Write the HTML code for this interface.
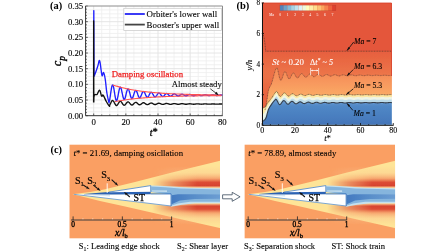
<!DOCTYPE html>
<html><head><meta charset="utf-8"><style>
html,body{margin:0;padding:0;background:#fff;width:448px;height:252px;overflow:hidden}
svg{display:block}
text{stroke:#000;stroke-width:0.1px}
</style></head><body>
<svg width="448" height="252" viewBox="0 0 448 252" font-family="'Liberation Serif', 'Times New Roman', serif">
<rect width="448" height="252" fill="#fff"/>
<path d="M101.74,6V115.7M109.78,6V115.7M117.81,6V115.7M133.89,6V115.7M141.93,6V115.7M149.96,6V115.7M166.04,6V115.7M174.07,6V115.7M182.11,6V115.7M198.19,6V115.7M206.22,6V115.7M214.26,6V115.7M85.6,111.78H222.5M85.6,107.87H222.5M85.6,103.95H222.5M85.6,96.11H222.5M85.6,92.19H222.5M85.6,88.28H222.5M85.6,80.44H222.5M85.6,76.53H222.5M85.6,72.61H222.5M85.6,64.77H222.5M85.6,60.86H222.5M85.6,56.94H222.5M85.6,49.1H222.5M85.6,45.19H222.5M85.6,41.27H222.5M85.6,33.43H222.5M85.6,29.52H222.5M85.6,25.6H222.5M85.6,17.76H222.5M85.6,13.85H222.5M85.6,9.93H222.5" stroke="#eeeeee" stroke-width="0.8" fill="none"/>
<path d="M93.7,6V115.7M125.85,6V115.7M158,6V115.7M190.15,6V115.7M85.6,100.03H222.5M85.6,84.36H222.5M85.6,68.69H222.5M85.6,53.02H222.5M85.6,37.35H222.5M85.6,21.68H222.5" stroke="#e2e2e2" stroke-width="0.9" fill="none"/>
<rect x="123.8" y="8.3" width="97.7" height="22.1" fill="#fff" stroke="#c8c8c8" stroke-width="0.7"/>
<path d="M124.8,14H144.8" stroke="#2525f5" stroke-width="1.8"/>
<path d="M124.8,24.6H144.8" stroke="#444" stroke-width="1.8"/>
<text x="146.6" y="17.2" font-size="8.9">Orbiter's lower wall</text>
<text x="146.6" y="27.9" font-size="8.9">Booster's upper wall</text>
<path d="M85.6,115.7h2.2M85.6,112.57h1.2M85.6,109.43h1.2M85.6,106.3h1.2M85.6,103.16h1.2M85.6,100.03h2.2M85.6,96.9h1.2M85.6,93.76h1.2M85.6,90.63h1.2M85.6,87.49h1.2M85.6,84.36h2.2M85.6,81.23h1.2M85.6,78.09h1.2M85.6,74.96h1.2M85.6,71.82h1.2M85.6,68.69h2.2M85.6,65.56h1.2M85.6,62.42h1.2M85.6,59.29h1.2M85.6,56.15h1.2M85.6,53.02h2.2M85.6,49.89h1.2M85.6,46.75h1.2M85.6,43.62h1.2M85.6,40.48h1.2M85.6,37.35h2.2M85.6,34.22h1.2M85.6,31.08h1.2M85.6,27.95h1.2M85.6,24.81h1.2M85.6,21.68h2.2M85.6,18.55h1.2M85.6,15.41h1.2M85.6,12.28h1.2M85.6,9.14h1.2M85.6,6.01h2.2M93.7,115.7v-2.2M101.74,115.7v-1.2M109.78,115.7v-1.2M117.81,115.7v-1.2M125.85,115.7v-2.2M133.89,115.7v-1.2M141.93,115.7v-1.2M149.96,115.7v-1.2M158,115.7v-2.2M166.04,115.7v-1.2M174.07,115.7v-1.2M182.11,115.7v-1.2M190.15,115.7v-2.2M198.19,115.7v-1.2M206.22,115.7v-1.2M214.26,115.7v-1.2M222.3,115.7v-2.2" stroke="#333" stroke-width="0.8" fill="none"/>
<path d="M85.6,6.0H222.5V115.7" stroke="#8c8c8c" stroke-width="1" fill="none"/>
<path d="M85.6,6.0V115.7H222.5" stroke="#333" stroke-width="1" fill="none"/>
<text x="83.2" y="118.65" font-size="8.7" text-anchor="end">0.00</text>
<text x="83.2" y="102.98" font-size="8.7" text-anchor="end">0.05</text>
<text x="83.2" y="87.31" font-size="8.7" text-anchor="end">0.10</text>
<text x="83.2" y="71.64" font-size="8.7" text-anchor="end">0.15</text>
<text x="83.2" y="55.97" font-size="8.7" text-anchor="end">0.20</text>
<text x="83.2" y="40.3" font-size="8.7" text-anchor="end">0.25</text>
<text x="83.2" y="24.63" font-size="8.7" text-anchor="end">0.30</text>
<text x="83.2" y="8.96" font-size="8.7" text-anchor="end">0.35</text>
<text x="93.7" y="125.3" font-size="8.8" text-anchor="middle">0</text>
<text x="125.85" y="125.3" font-size="8.8" text-anchor="middle">20</text>
<text x="158" y="125.3" font-size="8.8" text-anchor="middle">40</text>
<text x="190.15" y="125.3" font-size="8.8" text-anchor="middle">60</text>
<text x="222.3" y="125.3" font-size="8.8" text-anchor="middle">80</text>
<path d="M93.75,76.6 L93.8,10.6 L93.95,76.6 M93.95,76.6 C94.26,75.84 94.73,74.92 95.5,72.8 C96.27,70.68 96.98,68.44 97.8,66 C98.62,63.56 98.94,59.8 99.6,60.6 C100.26,61.4 100.6,66.96 101.1,70 C101.6,73.04 101.6,75.28 102.1,75.8 C102.6,76.32 102.98,71.96 103.6,72.6 C104.22,73.24 104.56,75.02 105.2,79 C105.84,82.98 106.08,87.9 106.8,92.5 C107.52,97.1 108.34,100.15 108.8,102 C109.26,103.85 108.99,101.98 109.12,101.74 C109.25,101.49 109.31,101.26 109.44,100.78 C109.57,100.29 109.64,99.98 109.76,99.31 C109.89,98.64 109.96,98.23 110.09,97.43 C110.21,96.63 110.28,96.17 110.41,95.29 C110.54,94.41 110.6,93.93 110.73,93.03 C110.86,92.14 110.92,91.66 111.05,90.82 C111.18,89.97 111.24,89.54 111.37,88.79 C111.5,88.05 111.56,87.69 111.69,87.1 C111.82,86.51 111.89,86.24 112.01,85.84 C112.14,85.43 112.21,85.28 112.34,85.09 C112.47,84.9 112.53,84.86 112.66,84.9 C112.79,84.93 112.85,85.01 112.98,85.26 C113.11,85.51 113.17,85.71 113.3,86.15 C113.43,86.6 113.49,86.89 113.62,87.5 C113.75,88.11 113.82,88.47 113.94,89.2 C114.07,89.92 114.14,90.34 114.27,91.13 C114.39,91.93 114.46,92.36 114.59,93.17 C114.72,93.97 114.78,94.4 114.91,95.16 C115.04,95.93 115.1,96.32 115.23,96.99 C115.36,97.67 115.42,97.99 115.55,98.53 C115.68,99.07 115.74,99.32 115.87,99.69 C116,100.06 116.07,100.21 116.19,100.39 C116.32,100.57 116.39,100.61 116.52,100.6 C116.64,100.58 116.71,100.52 116.84,100.31 C116.97,100.11 117.03,99.95 117.16,99.57 C117.29,99.19 117.35,98.94 117.48,98.42 C117.61,97.9 117.67,97.59 117.8,96.96 C117.93,96.33 117.99,95.98 118.12,95.29 C118.25,94.61 118.32,94.23 118.44,93.53 C118.57,92.84 118.64,92.47 118.77,91.81 C118.9,91.15 118.96,90.81 119.09,90.23 C119.22,89.65 119.28,89.37 119.41,88.91 C119.54,88.45 119.6,88.24 119.73,87.93 C119.86,87.61 119.92,87.49 120.05,87.34 C120.18,87.2 120.25,87.17 120.37,87.19 C120.5,87.22 120.57,87.28 120.7,87.48 C120.82,87.68 120.89,87.83 121.02,88.17 C121.15,88.52 121.21,88.75 121.34,89.22 C121.47,89.69 121.53,89.98 121.66,90.54 C121.79,91.11 121.85,91.43 121.98,92.05 C122.11,92.67 122.17,93.01 122.3,93.64 C122.43,94.27 122.5,94.6 122.62,95.19 C122.75,95.79 122.82,96.09 122.95,96.62 C123.07,97.14 123.14,97.4 123.27,97.82 C123.4,98.24 123.46,98.43 123.59,98.72 C123.72,99.01 123.78,99.12 123.91,99.26 C124.04,99.41 124.1,99.44 124.23,99.43 C124.36,99.42 124.42,99.37 124.55,99.21 C124.68,99.05 124.75,98.92 124.87,98.63 C125,98.33 125.07,98.14 125.2,97.73 C125.33,97.33 125.39,97.08 125.52,96.59 C125.65,96.11 125.71,95.83 125.84,95.29 C125.97,94.76 126.03,94.47 126.16,93.92 C126.29,93.38 126.35,93.09 126.48,92.58 C126.61,92.06 126.68,91.8 126.8,91.35 C126.93,90.9 127,90.68 127.13,90.32 C127.25,89.96 127.32,89.8 127.45,89.56 C127.58,89.31 127.64,89.22 127.77,89.1 C127.9,88.99 127.96,88.96 128.09,88.99 C128.22,89.01 128.28,89.05 128.41,89.21 C128.54,89.36 128.6,89.48 128.73,89.75 C128.86,90.02 128.93,90.19 129.05,90.56 C129.18,90.93 129.25,91.15 129.38,91.6 C129.5,92.04 129.57,92.29 129.7,92.77 C129.83,93.25 129.89,93.52 130.02,94 C130.15,94.49 130.21,94.75 130.34,95.22 C130.47,95.68 130.53,95.92 130.66,96.33 C130.79,96.74 130.85,96.94 130.98,97.26 C131.11,97.59 131.18,97.74 131.3,97.96 C131.43,98.19 131.5,98.28 131.63,98.39 C131.76,98.5 131.82,98.52 131.95,98.52 C132.08,98.51 132.14,98.47 132.27,98.34 C132.4,98.22 132.46,98.12 132.59,97.89 C132.72,97.66 132.78,97.51 132.91,97.2 C133.04,96.88 133.11,96.69 133.23,96.31 C133.36,95.93 133.43,95.71 133.56,95.29 C133.68,94.88 133.75,94.65 133.88,94.23 C134.01,93.8 134.07,93.58 134.2,93.18 C134.33,92.78 134.39,92.57 134.52,92.22 C134.65,91.87 134.71,91.7 134.84,91.42 C134.97,91.14 135.03,91.01 135.16,90.82 C135.29,90.63 135.36,90.56 135.48,90.47 C135.61,90.38 135.68,90.36 135.81,90.38 C135.93,90.4 136,90.43 136.13,90.55 C136.26,90.67 136.32,90.76 136.45,90.97 C136.58,91.19 136.64,91.32 136.77,91.61 C136.9,91.9 136.96,92.07 137.09,92.41 C137.22,92.76 137.28,92.95 137.41,93.33 C137.54,93.7 137.61,93.91 137.73,94.29 C137.86,94.67 137.93,94.87 138.06,95.24 C138.19,95.6 138.25,95.78 138.38,96.1 C138.51,96.42 138.57,96.57 138.7,96.83 C138.83,97.08 138.89,97.2 139.02,97.37 C139.15,97.55 139.21,97.62 139.34,97.71 C139.47,97.79 139.54,97.81 139.66,97.81 C139.79,97.8 139.86,97.77 139.99,97.67 C140.11,97.57 140.18,97.5 140.31,97.32 C140.44,97.14 140.5,97.02 140.63,96.78 C140.76,96.53 140.82,96.38 140.95,96.09 C141.08,95.79 141.14,95.62 141.27,95.3 C141.4,94.97 141.46,94.79 141.59,94.46 C141.72,94.13 141.79,93.96 141.91,93.65 C142.04,93.34 142.11,93.18 142.24,92.9 C142.36,92.63 142.43,92.5 142.56,92.28 C142.69,92.06 142.75,91.96 142.88,91.81 C143.01,91.66 143.07,91.61 143.2,91.54 C143.33,91.47 143.39,91.45 143.52,91.47 C143.65,91.48 143.71,91.51 143.84,91.6 C143.97,91.69 144.04,91.76 144.16,91.93 C144.29,92.09 144.36,92.2 144.49,92.42 C144.62,92.65 144.68,92.78 144.81,93.05 C144.94,93.32 145,93.47 145.13,93.76 C145.26,94.06 145.32,94.22 145.45,94.51 C145.58,94.81 145.64,94.97 145.77,95.25 C145.9,95.53 145.97,95.68 146.09,95.92 C146.22,96.17 146.29,96.29 146.42,96.49 C146.54,96.69 146.61,96.78 146.74,96.92 C146.87,97.05 146.93,97.11 147.06,97.17 C147.19,97.24 147.25,97.26 147.38,97.25 C147.51,97.25 147.57,97.22 147.7,97.15 C147.83,97.07 147.89,97.01 148.02,96.87 C148.15,96.73 148.22,96.64 148.34,96.45 C148.47,96.26 148.54,96.14 148.67,95.91 C148.79,95.68 148.86,95.55 148.99,95.3 C149.12,95.04 149.18,94.91 149.31,94.65 C149.44,94.39 149.5,94.26 149.63,94.01 C149.76,93.77 149.82,93.65 149.95,93.43 C150.08,93.22 150.14,93.11 150.27,92.95 C150.4,92.78 150.47,92.7 150.59,92.58 C150.72,92.47 150.79,92.42 150.92,92.37 C151.05,92.31 151.11,92.3 151.24,92.31 C151.37,92.32 151.43,92.35 151.56,92.42 C151.69,92.49 151.75,92.55 151.88,92.67 C152.01,92.8 152.07,92.89 152.2,93.06 C152.33,93.23 152.4,93.34 152.52,93.55 C152.65,93.76 152.72,93.88 152.85,94.1 C152.97,94.33 153.04,94.46 153.17,94.69 C153.3,94.92 153.36,95.04 153.49,95.26 C153.62,95.48 153.68,95.59 153.81,95.79 C153.94,95.98 154,96.07 154.13,96.23 C154.26,96.38 154.32,96.45 154.45,96.56 C154.58,96.67 154.65,96.71 154.77,96.76 C154.9,96.81 154.97,96.83 155.1,96.82 C155.22,96.82 155.29,96.8 155.42,96.74 C155.55,96.68 155.61,96.63 155.74,96.53 C155.87,96.42 155.93,96.35 156.06,96.2 C156.19,96.05 156.25,95.96 156.38,95.78 C156.51,95.6 156.57,95.49 156.7,95.3 C156.83,95.1 156.9,94.99 157.03,94.79 C157.15,94.59 157.22,94.49 157.35,94.3 C157.48,94.11 157.54,94.01 157.67,93.84 C157.8,93.68 157.86,93.6 157.99,93.47 C158.12,93.33 158.18,93.27 158.31,93.18 C158.44,93.09 158.5,93.06 158.63,93.02 C158.76,92.97 158.83,92.97 158.95,92.97 C159.08,92.98 159.15,93 159.28,93.06 C159.4,93.11 159.47,93.15 159.6,93.25 C159.73,93.35 159.79,93.42 159.92,93.55 C160.05,93.69 160.11,93.77 160.24,93.93 C160.37,94.1 160.43,94.19 160.56,94.37 C160.69,94.55 160.75,94.64 160.88,94.82 C161.01,95 161.08,95.1 161.2,95.27 C161.33,95.44 161.4,95.53 161.53,95.68 C161.65,95.83 161.72,95.9 161.85,96.02 C161.98,96.14 162.04,96.2 162.17,96.28 C162.3,96.36 162.36,96.4 162.49,96.44 C162.62,96.48 162.68,96.49 162.81,96.48 C162.94,96.48 163,96.47 163.13,96.42 C163.26,96.38 163.33,96.34 163.46,96.25 C163.58,96.17 163.65,96.11 163.78,96 C163.91,95.88 163.97,95.81 164.1,95.67 C164.23,95.53 164.29,95.45 164.42,95.3 C164.55,95.14 164.61,95.06 164.74,94.9 C164.87,94.75 164.93,94.67 165.06,94.52 C165.19,94.37 165.26,94.3 165.38,94.17 C165.51,94.04 165.58,93.97 165.71,93.87 C165.83,93.77 165.9,93.72 166.03,93.65 C166.16,93.58 166.22,93.55 166.35,93.52 C166.48,93.49 166.54,93.48 166.67,93.49 C166.8,93.49 166.86,93.51 166.99,93.55 C167.12,93.59 167.18,93.63 167.31,93.71 C167.44,93.78 167.51,93.83 167.63,93.94 C167.76,94.05 167.83,94.11 167.96,94.24 C168.08,94.36 168.15,94.44 168.28,94.57 C168.41,94.71 168.47,94.79 168.6,94.93 C168.73,95.07 168.79,95.14 168.92,95.28 C169.05,95.41 169.11,95.48 169.24,95.6 C169.37,95.71 169.43,95.77 169.56,95.86 C169.69,95.96 169.76,96 169.89,96.06 C170.01,96.13 170.08,96.15 170.21,96.19 C170.34,96.22 170.4,96.23 170.53,96.22 C170.66,96.22 170.72,96.21 170.85,96.17 C170.98,96.14 171.04,96.11 171.17,96.04 C171.3,95.98 171.36,95.93 171.49,95.84 C171.62,95.75 171.69,95.7 171.81,95.59 C171.94,95.48 172.01,95.42 172.14,95.3 C172.26,95.18 172.33,95.11 172.46,94.99 C172.59,94.87 172.65,94.81 172.78,94.69 C172.91,94.58 172.97,94.52 173.1,94.42 C173.23,94.32 173.29,94.27 173.42,94.19 C173.55,94.11 173.61,94.07 173.74,94.02 C173.87,93.96 173.94,93.94 174.06,93.91 C174.19,93.89 174.26,93.88 174.39,93.89 C174.51,93.89 174.58,93.9 174.71,93.94 C174.84,93.97 174.9,94 175.03,94.06 C175.16,94.12 175.22,94.16 175.35,94.24 C175.48,94.32 175.54,94.37 175.67,94.47 C175.8,94.57 175.86,94.63 175.99,94.73 C176.12,94.84 176.19,94.9 176.32,95.01 C176.44,95.12 176.51,95.18 176.64,95.28 C176.77,95.39 176.83,95.44 176.96,95.53 C177.09,95.62 177.15,95.67 177.28,95.74 C177.41,95.81 177.47,95.85 177.6,95.9 C177.73,95.95 177.79,95.97 177.92,95.99 C178.05,96.02 178.12,96.02 178.24,96.02 C178.37,96.02 178.44,96.01 178.57,95.98 C178.69,95.95 178.76,95.93 178.89,95.88 C179.02,95.83 179.08,95.79 179.21,95.72 C179.34,95.65 179.4,95.61 179.53,95.53 C179.66,95.44 179.72,95.39 179.85,95.3 C179.98,95.21 180.04,95.15 180.17,95.06 C180.3,94.97 180.37,94.92 180.49,94.83 C180.62,94.74 180.69,94.69 180.82,94.61 C180.94,94.53 181.01,94.49 181.14,94.43 C181.27,94.37 181.33,94.34 181.46,94.3 C181.59,94.26 181.65,94.24 181.78,94.22 C181.91,94.2 181.97,94.2 182.1,94.2 C182.23,94.2 182.29,94.21 182.42,94.24 C182.55,94.26 182.62,94.29 182.75,94.33 C182.87,94.38 182.94,94.41 183.07,94.47 C183.2,94.54 183.26,94.58 183.39,94.65 C183.52,94.73 183.58,94.78 183.71,94.86 C183.84,94.94 183.9,94.99 184.03,95.07 C184.16,95.16 184.22,95.2 184.35,95.29 C184.48,95.37 184.55,95.41 184.67,95.48 C184.8,95.55 184.87,95.58 185,95.64 C185.12,95.7 185.19,95.72 185.32,95.76 C185.45,95.8 185.51,95.82 185.64,95.84 C185.77,95.86 185.83,95.86 185.96,95.86 C186.09,95.86 186.15,95.85 186.28,95.83 C186.41,95.81 186.47,95.79 186.6,95.75 C186.73,95.71 186.8,95.69 186.92,95.63 C187.05,95.58 187.12,95.54 187.25,95.48 C187.37,95.41 187.44,95.37 187.57,95.3 C187.7,95.23 187.76,95.19 187.89,95.11 C188.02,95.04 188.08,95 188.21,94.93 C188.34,94.86 188.4,94.83 188.53,94.76 C188.66,94.7 188.72,94.67 188.85,94.62 C188.98,94.58 189.05,94.55 189.18,94.52 C189.3,94.49 189.37,94.47 189.5,94.46 C189.63,94.44 189.69,94.44 189.82,94.44 C189.95,94.45 190.01,94.45 190.14,94.47 C190.27,94.49 190.33,94.51 190.46,94.55 C190.59,94.58 190.65,94.61 190.78,94.66 C190.91,94.71 190.98,94.74 191.1,94.8 C191.23,94.86 191.3,94.89 191.43,94.96 C191.55,95.02 191.62,95.06 191.75,95.12 C191.88,95.19 191.94,95.23 192.07,95.29 C192.2,95.35 192.26,95.38 192.39,95.44 C192.52,95.5 192.58,95.52 192.71,95.57 C192.84,95.61 192.9,95.63 193.03,95.66 C193.16,95.69 193.23,95.7 193.35,95.72 C193.48,95.73 193.55,95.74 193.68,95.74 C193.8,95.74 193.87,95.73 194,95.71 C194.13,95.7 194.19,95.68 194.32,95.65 C194.45,95.62 194.51,95.6 194.64,95.56 C194.77,95.51 194.83,95.49 194.96,95.44 C195.09,95.39 195.15,95.36 195.28,95.3 C195.41,95.24 195.48,95.21 195.61,95.15 C195.73,95.1 195.8,95.07 195.93,95.01 C196.06,94.96 196.12,94.93 196.25,94.88 C196.38,94.83 196.44,94.81 196.57,94.77 C196.7,94.74 196.76,94.72 196.89,94.69 C197.02,94.67 197.08,94.66 197.21,94.64 C197.34,94.63 197.41,94.63 197.53,94.63 C197.66,94.63 197.73,94.64 197.86,94.66 C197.98,94.67 198.05,94.68 198.18,94.71 C198.31,94.74 198.37,94.76 198.5,94.8 C198.63,94.84 198.69,94.86 198.82,94.91 C198.95,94.95 199.01,94.98 199.14,95.03 C199.27,95.08 199.33,95.11 199.46,95.16 C199.59,95.21 199.66,95.24 199.78,95.29 C199.91,95.34 199.98,95.37 200.11,95.41 C200.23,95.45 200.3,95.47 200.43,95.51 C200.56,95.54 200.62,95.56 200.75,95.58 C200.88,95.61 200.94,95.61 201.07,95.63 C201.2,95.64 201.26,95.64 201.39,95.64 C201.52,95.64 201.58,95.64 201.71,95.62 C201.84,95.61 201.91,95.6 202.04,95.57 C202.16,95.55 202.23,95.53 202.36,95.5 C202.49,95.47 202.55,95.45 202.68,95.41 C202.81,95.37 202.87,95.34 203,95.3 C203.13,95.26 203.19,95.23 203.32,95.19 C203.45,95.14 203.51,95.12 203.64,95.08 C203.77,95.03 203.84,95.01 203.96,94.97 C204.09,94.94 204.16,94.92 204.29,94.89 C204.41,94.86 204.48,94.85 204.61,94.83 C204.74,94.81 204.8,94.8 204.93,94.79 C205.06,94.78 205.12,94.78 205.25,94.78 C205.38,94.78 205.44,94.79 205.57,94.8 C205.7,94.81 205.76,94.82 205.89,94.84 C206.02,94.86 206.09,94.88 206.21,94.91 C206.34,94.94 206.41,94.96 206.54,94.99 C206.66,95.03 206.73,95.05 206.86,95.09 C206.99,95.13 207.05,95.15 207.18,95.19 C207.31,95.23 207.37,95.25 207.5,95.29 C207.63,95.33 207.69,95.35 207.82,95.38 C207.95,95.42 208.01,95.43 208.14,95.46 C208.27,95.49 208.34,95.5 208.47,95.52 C208.59,95.54 208.66,95.55 208.79,95.55 C208.92,95.56 208.98,95.57 209.11,95.57 C209.24,95.56 209.3,95.56 209.43,95.55 C209.56,95.54 209.62,95.53 209.75,95.51 C209.88,95.49 209.94,95.48 210.07,95.46 C210.2,95.43 210.27,95.41 210.39,95.38 C210.52,95.35 210.59,95.33 210.72,95.3 C210.84,95.27 210.91,95.25 211.04,95.21 C211.17,95.18 211.23,95.16 211.36,95.13 C211.49,95.09 211.55,95.08 211.68,95.05 C211.81,95.02 211.87,95 212,94.98 C212.13,94.96 212.19,94.95 212.32,94.93 C212.45,94.92 212.52,94.91 212.64,94.9 C212.77,94.89 212.84,94.89 212.97,94.89 C213.09,94.9 213.16,94.9 213.29,94.91 C213.42,94.92 213.48,94.93 213.61,94.94 C213.74,94.96 213.8,94.97 213.93,95 C214.06,95.02 214.12,95.03 214.25,95.06 C214.38,95.09 214.44,95.11 214.57,95.14 C214.7,95.17 214.77,95.19 214.9,95.22 C215.02,95.25 215.09,95.26 215.22,95.29 C215.35,95.32 215.41,95.34 215.54,95.37 C215.67,95.39 215.73,95.4 215.86,95.43 C215.99,95.45 216.05,95.46 216.18,95.47 C216.31,95.49 216.37,95.49 216.5,95.5 C216.63,95.51 216.7,95.51 216.82,95.51 C216.95,95.51 217.02,95.5 217.15,95.5 C217.27,95.49 217.34,95.48 217.47,95.47 C217.6,95.45 217.66,95.44 217.79,95.42 C217.92,95.4 217.98,95.39 218.11,95.36 C218.24,95.34 218.3,95.33 218.43,95.3 C218.56,95.27 218.62,95.26 218.75,95.23 C218.88,95.2 218.95,95.19 219.07,95.16 C219.2,95.14 219.27,95.13 219.4,95.1 C219.52,95.08 219.59,95.07 219.72,95.05 C219.85,95.03 219.91,95.02 220.04,95.01 C220.17,95 220.23,95 220.36,94.99 C220.49,94.98 220.55,94.98 220.68,94.98 C220.81,94.99 220.87,94.99 221,95 C221.13,95 221.2,95.01 221.33,95.02 C221.45,95.04 221.52,95.04 221.65,95.06 C221.78,95.08 221.84,95.09 221.97,95.11 C222.1,95.14 222.23,95.16 222.29,95.17" stroke="#1f1fff" stroke-width="1.35" fill="none" stroke-linejoin="round"/>
<path d="M93.6,102.4 L93.65,20.8 L93.8,102.4 M93.8,102.4 C93.9,100.96 93.64,96.8 94.3,95.2 C94.96,93.6 96.04,95.4 97.1,94.4 C98.16,93.4 98.7,89.88 99.6,90.2 C100.5,90.52 100.88,95 101.6,96 C102.32,97 102.26,94.1 103.2,95.2 C104.14,96.3 105.08,99.32 106.3,101.5 C107.52,103.68 108.64,105.35 109.3,106.1 C109.96,106.85 109.49,105.53 109.62,105.26 C109.75,104.98 109.81,104.96 109.94,104.72 C110.07,104.49 110.14,104.35 110.26,104.08 C110.39,103.81 110.46,103.66 110.59,103.38 C110.71,103.1 110.78,102.95 110.91,102.67 C111.04,102.39 111.1,102.25 111.23,102 C111.36,101.75 111.42,101.62 111.55,101.41 C111.68,101.2 111.74,101.11 111.87,100.95 C112,100.8 112.06,100.73 112.19,100.64 C112.32,100.55 112.39,100.52 112.51,100.5 C112.64,100.48 112.71,100.49 112.84,100.54 C112.97,100.59 113.03,100.64 113.16,100.76 C113.29,100.87 113.35,100.95 113.48,101.12 C113.61,101.3 113.67,101.4 113.8,101.62 C113.93,101.84 113.99,101.96 114.12,102.21 C114.25,102.45 114.32,102.59 114.44,102.85 C114.57,103.1 114.64,103.24 114.77,103.5 C114.89,103.75 114.96,103.88 115.09,104.11 C115.22,104.34 115.28,104.45 115.41,104.65 C115.54,104.84 115.6,104.93 115.73,105.07 C115.86,105.22 115.92,105.28 116.05,105.37 C116.18,105.45 116.24,105.48 116.37,105.51 C116.5,105.53 116.57,105.53 116.69,105.49 C116.82,105.45 116.89,105.42 117.02,105.32 C117.14,105.22 117.21,105.16 117.34,105.01 C117.47,104.86 117.53,104.77 117.66,104.59 C117.79,104.4 117.85,104.29 117.98,104.08 C118.11,103.87 118.17,103.75 118.3,103.53 C118.43,103.31 118.49,103.19 118.62,102.97 C118.75,102.76 118.82,102.64 118.94,102.45 C119.07,102.25 119.14,102.15 119.27,101.99 C119.4,101.82 119.46,101.74 119.59,101.62 C119.72,101.5 119.78,101.45 119.91,101.38 C120.04,101.31 120.1,101.29 120.23,101.27 C120.36,101.26 120.42,101.26 120.55,101.3 C120.68,101.34 120.75,101.38 120.87,101.47 C121,101.56 121.07,101.62 121.2,101.76 C121.32,101.89 121.39,101.98 121.52,102.15 C121.65,102.32 121.71,102.42 121.84,102.61 C121.97,102.8 122.03,102.91 122.16,103.11 C122.29,103.32 122.35,103.43 122.48,103.62 C122.61,103.82 122.67,103.93 122.8,104.11 C122.93,104.29 123,104.38 123.12,104.53 C123.25,104.68 123.32,104.75 123.45,104.87 C123.57,104.98 123.64,105.03 123.77,105.1 C123.9,105.17 123.96,105.19 124.09,105.21 C124.22,105.23 124.28,105.22 124.41,105.19 C124.54,105.16 124.6,105.13 124.73,105.06 C124.86,104.98 124.92,104.93 125.05,104.82 C125.18,104.7 125.25,104.63 125.37,104.48 C125.5,104.34 125.57,104.25 125.7,104.09 C125.83,103.92 125.89,103.83 126.02,103.65 C126.15,103.48 126.21,103.39 126.34,103.21 C126.47,103.04 126.53,102.96 126.66,102.8 C126.79,102.64 126.85,102.57 126.98,102.44 C127.11,102.31 127.18,102.25 127.3,102.15 C127.43,102.06 127.5,102.02 127.63,101.96 C127.75,101.9 127.82,101.89 127.95,101.87 C128.08,101.86 128.14,101.87 128.27,101.9 C128.4,101.93 128.46,101.96 128.59,102.03 C128.72,102.1 128.78,102.15 128.91,102.26 C129.04,102.36 129.1,102.43 129.23,102.56 C129.36,102.7 129.43,102.78 129.55,102.93 C129.68,103.08 129.75,103.17 129.88,103.32 C130,103.48 130.07,103.57 130.2,103.73 C130.33,103.88 130.39,103.96 130.52,104.11 C130.65,104.25 130.71,104.32 130.84,104.44 C130.97,104.56 131.03,104.61 131.16,104.7 C131.29,104.79 131.35,104.83 131.48,104.88 C131.61,104.94 131.68,104.96 131.8,104.97 C131.93,104.99 132,104.98 132.13,104.96 C132.26,104.94 132.32,104.91 132.45,104.85 C132.58,104.8 132.64,104.75 132.77,104.66 C132.9,104.57 132.96,104.52 133.09,104.4 C133.22,104.29 133.28,104.22 133.41,104.09 C133.54,103.96 133.61,103.89 133.73,103.75 C133.86,103.61 133.93,103.54 134.06,103.4 C134.18,103.27 134.25,103.2 134.38,103.08 C134.51,102.96 134.57,102.89 134.7,102.79 C134.83,102.69 134.89,102.64 135.02,102.57 C135.15,102.49 135.21,102.46 135.34,102.42 C135.47,102.37 135.53,102.36 135.66,102.35 C135.79,102.34 135.86,102.34 135.98,102.37 C136.11,102.39 136.18,102.42 136.31,102.47 C136.43,102.53 136.5,102.57 136.63,102.65 C136.76,102.73 136.82,102.79 136.95,102.89 C137.08,103 137.14,103.06 137.27,103.18 C137.4,103.3 137.46,103.36 137.59,103.49 C137.72,103.62 137.78,103.68 137.91,103.81 C138.04,103.93 138.11,103.99 138.23,104.1 C138.36,104.22 138.43,104.27 138.56,104.37 C138.69,104.46 138.75,104.5 138.88,104.57 C139.01,104.64 139.07,104.67 139.2,104.72 C139.33,104.76 139.39,104.77 139.52,104.79 C139.65,104.8 139.71,104.8 139.84,104.78 C139.97,104.76 140.04,104.74 140.16,104.69 C140.29,104.65 140.36,104.61 140.49,104.54 C140.61,104.47 140.68,104.43 140.81,104.34 C140.94,104.25 141,104.19 141.13,104.09 C141.26,103.99 141.32,103.93 141.45,103.82 C141.58,103.72 141.64,103.66 141.77,103.55 C141.9,103.45 141.96,103.39 142.09,103.3 C142.22,103.2 142.29,103.15 142.41,103.07 C142.54,102.99 142.61,102.95 142.74,102.89 C142.86,102.84 142.93,102.81 143.06,102.78 C143.19,102.74 143.25,102.73 143.38,102.72 C143.51,102.72 143.57,102.72 143.7,102.74 C143.83,102.76 143.89,102.77 144.02,102.82 C144.15,102.86 144.21,102.89 144.34,102.96 C144.47,103.03 144.54,103.07 144.66,103.15 C144.79,103.23 144.86,103.28 144.99,103.38 C145.12,103.47 145.18,103.52 145.31,103.62 C145.44,103.72 145.5,103.77 145.63,103.87 C145.76,103.97 145.82,104.02 145.95,104.1 C146.08,104.19 146.14,104.24 146.27,104.31 C146.4,104.38 146.47,104.42 146.59,104.47 C146.72,104.53 146.79,104.55 146.92,104.59 C147.04,104.62 147.11,104.63 147.24,104.64 C147.37,104.65 147.43,104.65 147.56,104.63 C147.69,104.62 147.75,104.6 147.88,104.57 C148.01,104.53 148.07,104.5 148.2,104.45 C148.33,104.39 148.39,104.36 148.52,104.29 C148.65,104.22 148.72,104.17 148.84,104.09 C148.97,104.01 149.04,103.97 149.17,103.88 C149.29,103.8 149.36,103.75 149.49,103.67 C149.62,103.59 149.68,103.54 149.81,103.47 C149.94,103.39 150,103.35 150.13,103.29 C150.26,103.23 150.32,103.2 150.45,103.15 C150.58,103.11 150.64,103.09 150.77,103.06 C150.9,103.03 150.97,103.02 151.09,103.02 C151.22,103.01 151.29,103.01 151.42,103.03 C151.55,103.04 151.61,103.06 151.74,103.09 C151.87,103.13 151.93,103.15 152.06,103.2 C152.19,103.26 152.25,103.29 152.38,103.35 C152.51,103.42 152.57,103.46 152.7,103.53 C152.83,103.6 152.9,103.64 153.02,103.72 C153.15,103.8 153.22,103.84 153.35,103.92 C153.47,103.99 153.54,104.03 153.67,104.1 C153.8,104.17 153.86,104.21 153.99,104.26 C154.12,104.32 154.18,104.35 154.31,104.39 C154.44,104.44 154.5,104.46 154.63,104.48 C154.76,104.51 154.82,104.52 154.95,104.52 C155.08,104.53 155.15,104.53 155.27,104.52 C155.4,104.51 155.47,104.5 155.6,104.47 C155.72,104.44 155.79,104.42 155.92,104.37 C156.05,104.33 156.11,104.3 156.24,104.25 C156.37,104.19 156.43,104.16 156.56,104.1 C156.69,104.03 156.75,104 156.88,103.93 C157.01,103.86 157.07,103.83 157.2,103.76 C157.33,103.7 157.4,103.66 157.53,103.6 C157.65,103.54 157.72,103.51 157.85,103.46 C157.98,103.41 158.04,103.39 158.17,103.35 C158.3,103.32 158.36,103.3 158.49,103.28 C158.62,103.26 158.68,103.25 158.81,103.25 C158.94,103.24 159,103.25 159.13,103.26 C159.26,103.27 159.33,103.28 159.45,103.31 C159.58,103.33 159.65,103.35 159.78,103.39 C159.9,103.44 159.97,103.46 160.1,103.51 C160.23,103.56 160.29,103.59 160.42,103.65 C160.55,103.71 160.61,103.74 160.74,103.8 C160.87,103.86 160.93,103.9 161.06,103.96 C161.19,104.02 161.25,104.05 161.38,104.1 C161.51,104.16 161.58,104.18 161.7,104.23 C161.83,104.28 161.9,104.3 162.03,104.33 C162.15,104.37 162.22,104.38 162.35,104.4 C162.48,104.42 162.54,104.43 162.67,104.43 C162.8,104.44 162.86,104.44 162.99,104.43 C163.12,104.42 163.18,104.41 163.31,104.39 C163.44,104.37 163.5,104.35 163.63,104.32 C163.76,104.28 163.83,104.26 163.96,104.22 C164.08,104.17 164.15,104.15 164.28,104.1 C164.41,104.05 164.47,104.02 164.6,103.97 C164.73,103.91 164.79,103.88 164.92,103.83 C165.05,103.78 165.11,103.76 165.24,103.71 C165.37,103.66 165.43,103.64 165.56,103.6 C165.69,103.56 165.76,103.54 165.88,103.51 C166.01,103.48 166.08,103.47 166.21,103.46 C166.33,103.44 166.4,103.43 166.53,103.43 C166.66,103.43 166.72,103.43 166.85,103.44 C166.98,103.45 167.04,103.45 167.17,103.48 C167.3,103.5 167.36,103.51 167.49,103.55 C167.62,103.58 167.68,103.6 167.81,103.64 C167.94,103.68 168.01,103.7 168.13,103.75 C168.26,103.79 168.33,103.82 168.46,103.87 C168.58,103.91 168.65,103.94 168.78,103.99 C168.91,104.03 168.97,104.06 169.1,104.1 C169.23,104.14 169.29,104.17 169.42,104.2 C169.55,104.24 169.61,104.25 169.74,104.28 C169.87,104.31 169.93,104.32 170.06,104.34 C170.19,104.35 170.26,104.36 170.39,104.36 C170.51,104.37 170.58,104.37 170.71,104.36 C170.84,104.35 170.9,104.35 171.03,104.33 C171.16,104.31 171.22,104.3 171.35,104.27 C171.48,104.24 171.54,104.23 171.67,104.19 C171.8,104.16 171.86,104.14 171.99,104.1 C172.12,104.06 172.19,104.04 172.31,103.99 C172.44,103.95 172.51,103.93 172.64,103.89 C172.76,103.85 172.83,103.83 172.96,103.79 C173.09,103.76 173.15,103.74 173.28,103.71 C173.41,103.68 173.47,103.66 173.6,103.64 C173.73,103.62 173.79,103.61 173.92,103.59 C174.05,103.58 174.11,103.58 174.24,103.57 C174.37,103.57 174.44,103.57 174.56,103.58 C174.69,103.59 174.76,103.59 174.89,103.61 C175.01,103.63 175.08,103.64 175.21,103.66 C175.34,103.69 175.4,103.7 175.53,103.74 C175.66,103.77 175.72,103.79 175.85,103.82 C175.98,103.86 176.04,103.88 176.17,103.92 C176.3,103.95 176.36,103.97 176.49,104.01 C176.62,104.05 176.69,104.07 176.82,104.1 C176.94,104.13 177.01,104.15 177.14,104.18 C177.27,104.21 177.33,104.22 177.46,104.24 C177.59,104.26 177.65,104.27 177.78,104.29 C177.91,104.3 177.97,104.3 178.1,104.31 C178.23,104.31 178.29,104.31 178.42,104.3 C178.55,104.3 178.62,104.29 178.74,104.28 C178.87,104.26 178.94,104.25 179.07,104.23 C179.19,104.21 179.26,104.2 179.39,104.17 C179.52,104.14 179.58,104.13 179.71,104.1 C179.84,104.07 179.9,104.05 180.03,104.02 C180.16,103.98 180.22,103.97 180.35,103.93 C180.48,103.9 180.54,103.89 180.67,103.86 C180.8,103.83 180.87,103.81 180.99,103.79 C181.12,103.77 181.19,103.75 181.32,103.74 C181.44,103.72 181.51,103.71 181.64,103.7 C181.77,103.69 181.83,103.69 181.96,103.69 C182.09,103.68 182.15,103.68 182.28,103.69 C182.41,103.7 182.47,103.7 182.6,103.71 C182.73,103.73 182.79,103.74 182.92,103.76 C183.05,103.78 183.12,103.79 183.25,103.81 C183.37,103.84 183.44,103.85 183.57,103.88 C183.7,103.91 183.76,103.93 183.89,103.96 C184.02,103.99 184.08,104 184.21,104.03 C184.34,104.06 184.4,104.07 184.53,104.1 C184.66,104.13 184.72,104.14 184.85,104.16 C184.98,104.19 185.05,104.2 185.17,104.21 C185.3,104.23 185.37,104.24 185.5,104.25 C185.62,104.26 185.69,104.26 185.82,104.26 C185.95,104.27 186.01,104.26 186.14,104.26 C186.27,104.26 186.33,104.25 186.46,104.24 C186.59,104.23 186.65,104.22 186.78,104.21 C186.91,104.19 186.97,104.18 187.1,104.16 C187.23,104.13 187.3,104.12 187.42,104.1 C187.55,104.07 187.62,104.06 187.75,104.03 C187.87,104.01 187.94,104 188.07,103.97 C188.2,103.95 188.26,103.93 188.39,103.91 C188.52,103.89 188.58,103.88 188.71,103.86 C188.84,103.84 188.9,103.83 189.03,103.81 C189.16,103.8 189.22,103.79 189.35,103.79 C189.48,103.78 189.55,103.78 189.68,103.77 C189.8,103.77 189.87,103.77 190,103.78 C190.13,103.78 190.19,103.79 190.32,103.8 C190.45,103.81 190.51,103.81 190.64,103.83 C190.77,103.85 190.83,103.86 190.96,103.87 C191.09,103.89 191.15,103.91 191.28,103.93 C191.41,103.95 191.48,103.96 191.6,103.99 C191.73,104.01 191.8,104.02 191.93,104.05 C192.05,104.07 192.12,104.08 192.25,104.1 C192.38,104.12 192.44,104.13 192.57,104.15 C192.7,104.17 192.76,104.18 192.89,104.19 C193.02,104.2 193.08,104.21 193.21,104.21 C193.34,104.22 193.4,104.23 193.53,104.23 C193.66,104.23 193.73,104.23 193.85,104.23 C193.98,104.22 194.05,104.22 194.18,104.21 C194.3,104.2 194.37,104.2 194.5,104.18 C194.63,104.17 194.69,104.16 194.82,104.14 C194.95,104.13 195.01,104.12 195.14,104.1 C195.27,104.08 195.33,104.07 195.46,104.05 C195.59,104.03 195.65,104.02 195.78,104 C195.91,103.98 195.98,103.97 196.11,103.95 C196.23,103.93 196.3,103.92 196.43,103.91 C196.56,103.89 196.62,103.89 196.75,103.88 C196.88,103.86 196.94,103.86 197.07,103.85 C197.2,103.85 197.26,103.84 197.39,103.84 C197.52,103.84 197.58,103.84 197.71,103.85 C197.84,103.85 197.91,103.85 198.03,103.86 C198.16,103.87 198.23,103.88 198.36,103.89 C198.48,103.9 198.55,103.91 198.68,103.92 C198.81,103.94 198.87,103.95 199,103.96 C199.13,103.98 199.19,103.99 199.32,104.01 C199.45,104.03 199.51,104.04 199.64,104.06 C199.77,104.07 199.83,104.08 199.96,104.1 C200.09,104.12 200.16,104.13 200.28,104.14 C200.41,104.15 200.48,104.16 200.61,104.17 C200.73,104.18 200.8,104.18 200.93,104.19 C201.06,104.2 201.12,104.2 201.25,104.2 C201.38,104.2 201.44,104.2 201.57,104.2 C201.7,104.2 201.76,104.19 201.89,104.19 C202.02,104.18 202.08,104.18 202.21,104.17 C202.34,104.15 202.41,104.15 202.54,104.13 C202.66,104.12 202.73,104.11 202.86,104.1 C202.99,104.08 203.05,104.08 203.18,104.06 C203.31,104.04 203.37,104.04 203.5,104.02 C203.63,104 203.69,104 203.82,103.98 C203.95,103.97 204.01,103.96 204.14,103.95 C204.27,103.94 204.34,103.93 204.46,103.92 C204.59,103.91 204.66,103.91 204.79,103.91 C204.91,103.9 204.98,103.9 205.11,103.9 C205.24,103.9 205.3,103.9 205.43,103.9 C205.56,103.9 205.62,103.91 205.75,103.91 C205.88,103.92 205.94,103.92 206.07,103.93 C206.2,103.94 206.26,103.95 206.39,103.96 C206.52,103.97 206.59,103.98 206.71,103.99 C206.84,104.01 206.91,104.02 207.04,104.03 C207.16,104.04 207.23,104.05 207.36,104.07 C207.49,104.08 207.55,104.09 207.68,104.1 C207.81,104.11 207.87,104.12 208,104.13 C208.13,104.14 208.19,104.15 208.32,104.15 C208.45,104.16 208.51,104.17 208.64,104.17 C208.77,104.18 208.84,104.18 208.97,104.18 C209.09,104.18 209.16,104.18 209.29,104.18 C209.42,104.18 209.48,104.17 209.61,104.17 C209.74,104.16 209.8,104.16 209.93,104.15 C210.06,104.14 210.12,104.14 210.25,104.13 C210.38,104.12 210.44,104.11 210.57,104.1 C210.7,104.09 210.77,104.08 210.89,104.07 C211.02,104.06 211.09,104.05 211.22,104.04 C211.34,104.02 211.41,104.02 211.54,104.01 C211.67,104 211.73,103.99 211.86,103.98 C211.99,103.97 212.05,103.97 212.18,103.96 C212.31,103.95 212.37,103.95 212.5,103.95 C212.63,103.94 212.69,103.94 212.82,103.94 C212.95,103.94 213.02,103.94 213.14,103.94 C213.27,103.95 213.34,103.95 213.47,103.95 C213.59,103.96 213.66,103.96 213.79,103.97 C213.92,103.98 213.98,103.98 214.11,103.99 C214.24,104 214.3,104.01 214.43,104.02 C214.56,104.03 214.62,104.03 214.75,104.04 C214.88,104.06 214.94,104.06 215.07,104.07 C215.2,104.08 215.27,104.09 215.4,104.1 C215.52,104.11 215.59,104.12 215.72,104.12 C215.85,104.13 215.91,104.14 216.04,104.14 C216.17,104.15 216.23,104.15 216.36,104.16 C216.49,104.16 216.55,104.16 216.68,104.16 C216.81,104.16 216.87,104.16 217,104.16 C217.13,104.16 217.2,104.16 217.32,104.15 C217.45,104.15 217.52,104.15 217.65,104.14 C217.77,104.13 217.84,104.13 217.97,104.12 C218.1,104.11 218.16,104.11 218.29,104.1 C218.42,104.09 218.48,104.08 218.61,104.07 C218.74,104.07 218.8,104.06 218.93,104.05 C219.06,104.04 219.12,104.04 219.25,104.03 C219.38,104.02 219.45,104.01 219.57,104.01 C219.7,104 219.77,104 219.9,103.99 C220.02,103.99 220.09,103.98 220.22,103.98 C220.35,103.98 220.41,103.98 220.54,103.98 C220.67,103.97 220.73,103.97 220.86,103.98 C220.99,103.98 221.05,103.98 221.18,103.98 C221.31,103.99 221.37,103.99 221.5,104 C221.63,104 221.7,104.01 221.83,104.01 C221.95,104.02 222.08,104.03 222.15,104.03" stroke="#111" stroke-width="1.35" fill="none" stroke-linejoin="round"/>
<path d="M112.67,84.9 L114.28,85.43 L115.88,85.93 L117.49,86.4 L119.1,86.85 L120.71,87.28 L122.31,87.69 L123.92,88.07 L125.53,88.44 L127.14,88.79 L128.74,89.12 L130.35,89.43 L131.96,89.73 L133.57,90.01 L135.17,90.28 L136.78,90.53 L138.39,90.77 L140,91 L141.6,91.22 L143.21,91.43 L144.82,91.62 L146.43,91.81 L148.03,91.99 L149.64,92.16 L151.25,92.31 L152.86,92.47 L154.46,92.61 L156.07,92.75 L157.68,92.88 L159.29,93 L160.89,93.11 L162.5,93.23 L164.11,93.33 L165.72,93.43 L167.32,93.52 L168.93,93.61 L170.54,93.7 L172.15,93.78 L173.75,93.86 L175.36,93.93 L176.97,94 L178.58,94.07 L180.18,94.13 L181.79,94.19 L183.4,94.24 L185.01,94.3 L186.61,94.35 L188.22,94.4 L189.83,94.44 L191.44,94.49 L193.04,94.53 L194.65,94.57 L196.26,94.6 L197.87,94.64 L199.47,94.67 L201.08,94.7 L202.69,94.73 L204.3,94.76 L205.9,94.79 L207.51,94.82 L209.12,94.84 L210.73,94.86 L212.33,94.89 L213.94,94.91 L215.55,94.93 L217.16,94.95 L218.76,94.96 L220.37,94.98 L221.98,95" stroke="#ff5050" stroke-width="1.1" fill="none"/>
<path d="M115.08,101.6 L116.69,101.29 L118.29,100.99 L119.9,100.7 L121.51,100.44 L123.12,100.18 L124.72,99.94 L126.33,99.71 L127.94,99.49 L129.55,99.28 L131.15,99.09 L132.76,98.9 L134.37,98.72 L135.98,98.55 L137.58,98.39 L139.19,98.24 L140.8,98.1 L142.41,97.96 L144.01,97.83 L145.62,97.71 L147.23,97.59 L148.84,97.48 L150.44,97.37 L152.05,97.27 L153.66,97.18 L155.27,97.09 L156.87,97 L158.48,96.92 L160.09,96.85 L161.7,96.77 L163.3,96.7 L164.91,96.64 L166.52,96.57 L168.13,96.51 L169.73,96.46 L171.34,96.4 L172.95,96.35 L174.56,96.31 L176.16,96.26 L177.77,96.22 L179.38,96.17 L180.99,96.14 L182.59,96.1 L184.2,96.06 L185.81,96.03 L187.42,96 L189.02,95.97 L190.63,95.94 L192.24,95.91 L193.85,95.89 L195.45,95.86 L197.06,95.84 L198.67,95.82 L200.28,95.79 L201.88,95.77 L203.49,95.76 L205.1,95.74 L206.71,95.72 L208.31,95.7 L209.92,95.69 L211.53,95.67 L213.14,95.66 L214.74,95.65 L216.35,95.63 L217.96,95.62 L219.57,95.61 L221.17,95.6" stroke="#ff5050" stroke-width="1.1" fill="none"/>
<text x="111.8" y="77.3" font-size="8.75" fill="#ef1f1f" style="stroke:#ef1f1f;stroke-width:0.25px">Damping oscillation</text>
<text x="171.8" y="86.9" font-size="8.7">Almost steady</text>
<path d="M210.3,88.8L216.6,93.6" stroke="#111" stroke-width="0.8"/>
<path d="M218.6,95.2L214.9,93.9L216.6,91.8Z" fill="#111"/>
<text x="50.0" y="8.5" font-size="10.4" font-weight="bold" style="stroke:none">(a)</text>
<text transform="translate(61.1,66.3) rotate(-90)" font-size="12.5" font-style="italic" style="stroke-width:0.35px">c<tspan font-size="9.5" dy="3.6">p</tspan></text>
<text x="149.8" y="136.1" font-size="9.8" style="stroke-width:0.3px"><tspan font-style="italic">t</tspan><tspan dy="-1" font-size="10.5">*</tspan></text>
<clipPath id="bclip"><rect x="261.8" y="3.0" width="130.09999999999997" height="122.3"/></clipPath>
<filter id="bblur" x="-5%" y="-5%" width="110%" height="110%"><feGaussianBlur stdDeviation="0.45"/></filter>
<linearGradient id="gSal" x1="0" y1="52" x2="0" y2="76" gradientUnits="userSpaceOnUse"><stop offset="0" stop-color="#e7603f"/><stop offset="1" stop-color="#ed7649"/></linearGradient>
<linearGradient id="gOr" x1="0" y1="76" x2="0" y2="94" gradientUnits="userSpaceOnUse"><stop offset="0" stop-color="#f68f59"/><stop offset="1" stop-color="#faa865"/></linearGradient>
<linearGradient id="gBlue" x1="0" y1="101" x2="0" y2="125.3" gradientUnits="userSpaceOnUse"><stop offset="0" stop-color="#6b9cd2"/><stop offset="0.2" stop-color="#5088c6"/><stop offset="0.6" stop-color="#4a7fc0"/><stop offset="0.93" stop-color="#4476ba"/><stop offset="0.97" stop-color="#6a9ad0"/><stop offset="1" stop-color="#4476ba"/></linearGradient>
<linearGradient id="gLeft" x1="0" y1="68" x2="0" y2="95" gradientUnits="userSpaceOnUse"><stop offset="0" stop-color="#e8643f" stop-opacity="0"/><stop offset="1" stop-color="#e8643f" stop-opacity="1"/></linearGradient>
<g clip-path="url(#bclip)"><g filter="url(#bblur)"><rect x="261.8" y="3.0" width="130.09999999999997" height="122.3" fill="#e4573b"/><path d="M261.8,30.5 L263,33.4 L264.2,38.5 L265,44.5 L265.6,51.2 L391.9,51.2 L391.9,125.3 L261.8,125.3 Z" fill="url(#gSal)"/><path d="M265,110 L266.3,104.7 L267.4,97 L268.4,90.5 L269.6,87.2 L271.2,84.5 L272.6,80 L274,74.5 L275.6,69.5 L276.8,67.6 L277.2,68.22 L277.6,69.36 L278,70.89 L278.4,72.67 L278.8,74.54 L279.2,76.33 L279.6,77.9 L280,79.13 L280.4,79.93 L280.8,80.27 L281.2,80.14 L281.6,79.57 L282,78.66 L282.4,77.49 L282.8,76.19 L283.2,74.88 L283.6,73.67 L284,72.68 L284.4,71.99 L284.8,71.63 L285.2,71.65 L285.6,72.01 L286,72.67 L286.4,73.57 L286.8,74.62 L287.2,75.72 L287.6,76.76 L288,77.67 L288.4,78.37 L288.8,78.8 L289.2,78.93 L289.6,78.76 L290,78.33 L290.4,77.67 L290.8,76.86 L291.2,75.97 L291.6,75.09 L292,74.29 L292.4,73.64 L292.8,73.19 L293.2,72.98 L293.6,73.02 L294,73.3 L294.4,73.78 L294.8,74.42 L295.2,75.15 L295.6,75.9 L296,76.61 L296.4,77.21 L296.8,77.66 L297.2,77.91 L297.6,77.95 L298,77.78 L298.4,77.43 L298.8,76.92 L299.2,76.31 L299.6,75.66 L300,75.02 L300.4,74.46 L300.8,74.01 L301.2,73.72 L301.6,73.6 L302,73.67 L302.4,73.91 L302.8,74.29 L303.2,74.78 L303.6,75.32 L304,75.87 L304.4,76.38 L304.8,76.8 L305.2,77.1 L305.6,77.25 L306,77.24 L306.4,77.08 L306.8,76.78 L307.2,76.38 L307.6,75.92 L308,75.43 L308.4,74.96 L308.8,74.55 L309.2,74.24 L309.6,74.05 L310,74 L310.4,74.08 L310.8,74.29 L311.2,74.6 L311.6,74.98 L312,75.4 L312.4,75.81 L312.8,76.18 L313.2,76.48 L313.6,76.68 L314,76.76 L314.4,76.73 L314.8,76.58 L315.2,76.33 L315.6,76.02 L316,75.65 L316.4,75.28 L316.8,74.94 L317.2,74.64 L317.6,74.43 L318,74.31 L318.4,74.3 L318.8,74.39 L319.2,74.57 L319.6,74.82 L320,75.12 L320.4,75.44 L320.8,75.75 L321.2,76.02 L321.6,76.23 L322,76.37 L322.4,76.41 L322.8,76.36 L323.2,76.23 L323.6,76.02 L324,75.77 L324.4,75.49 L324.8,75.21 L325.2,74.95 L325.6,74.74 L326,74.6 L326.4,74.53 L326.8,74.53 L327.2,74.62 L327.6,74.78 L328,74.98 L328.4,75.22 L328.8,75.47 L329.2,75.7 L329.6,75.9 L330,76.05 L330.4,76.13 L330.8,76.15 L331.2,76.1 L331.6,75.98 L332,75.81 L332.4,75.61 L332.8,75.39 L333.2,75.18 L333.6,74.99 L334,74.84 L334.4,74.74 L334.8,74.7 L335.2,74.73 L335.6,74.81 L336,74.94 L336.4,75.11 L336.8,75.29 L337.2,75.48 L337.6,75.66 L338,75.8 L338.4,75.91 L338.8,75.96 L339.2,75.96 L339.6,75.91 L340,75.81 L340.4,75.67 L340.8,75.51 L341.2,75.34 L341.6,75.18 L342,75.04 L342.4,74.94 L342.8,74.87 L343.2,74.85 L343.6,74.88 L344,74.96 L344.4,75.07 L344.8,75.2 L345.2,75.35 L345.6,75.49 L346,75.62 L346.4,75.73 L346.8,75.8 L347.2,75.83 L347.6,75.82 L348,75.77 L348.4,75.69 L348.8,75.58 L349.2,75.45 L349.6,75.32 L350,75.2 L350.4,75.1 L350.8,75.02 L351.2,74.98 L351.6,74.98 L352,75.01 L352.4,75.07 L352.8,75.17 L353.2,75.27 L353.6,75.39 L354,75.5 L354.4,75.6 L354.8,75.68 L355.2,75.72 L355.6,75.74 L356,75.72 L356.4,75.68 L356.8,75.61 L357.2,75.52 L357.6,75.42 L358,75.32 L358.4,75.23 L358.8,75.15 L359.2,75.1 L359.6,75.07 L360,75.08 L360.4,75.11 L360.8,75.17 L361.2,75.24 L361.6,75.33 L362,75.42 L362.4,75.5 L362.8,75.58 L363.2,75.63 L363.6,75.67 L364,75.67 L364.4,75.65 L364.8,75.61 L365.2,75.55 L365.6,75.48 L366,75.4 L366.4,75.32 L366.8,75.26 L367.2,75.2 L367.6,75.17 L368,75.15 L368.4,75.16 L368.8,75.19 L369.2,75.24 L369.6,75.3 L370,75.37 L370.4,75.44 L370.8,75.51 L371.2,75.56 L371.6,75.6 L372,75.62 L372.4,75.62 L372.8,75.6 L373.2,75.57 L373.6,75.52 L374,75.46 L374.4,75.4 L374.8,75.34 L375.2,75.29 L375.6,75.25 L376,75.22 L376.4,75.22 L376.8,75.23 L377.2,75.26 L377.6,75.3 L378,75.35 L378.4,75.4 L378.8,75.46 L379.2,75.51 L379.6,75.55 L380,75.58 L380.4,75.59 L380.8,75.58 L381.2,75.57 L381.6,75.54 L382,75.49 L382.4,75.45 L382.8,75.4 L383.2,75.35 L383.6,75.32 L384,75.29 L384.4,75.27 L384.8,75.27 L385.2,75.28 L385.6,75.31 L386,75.34 L386.4,75.38 L386.8,75.43 L387.2,75.47 L387.6,75.51 L388,75.54 L388.4,75.56 L388.8,75.56 L389.2,75.56 L389.6,75.54 L390,75.51 L390.4,75.48 L390.8,75.44 L391.2,75.41 L391.6,75.37 L391.9,75.35 L391.9,125.3 L265,125.3 Z" fill="url(#gOr)"/><path d="M261.8,66 L274.5,66 L276.8,67.6 L275.6,69.5 L274,74.5 L272.6,80 L271.2,84.5 L269.6,87.2 L268.4,90.5 L267.4,97 L266.3,104.7 L265,110 L261.8,112Z" fill="url(#gLeft)"/><path d="M262,108.5 L264.5,107.5 L266.3,105.3 L268,102.6 L270,100.2 L272,97.6 L274.5,93.6 L276.4,91.3 L276.8,91.53 L277.2,91.99 L277.6,92.63 L278,93.37 L278.4,94.16 L278.8,94.91 L279.2,95.57 L279.6,96.08 L280,96.41 L280.4,96.53 L280.8,96.45 L281.2,96.18 L281.6,95.76 L282,95.24 L282.4,94.68 L282.8,94.12 L283.2,93.63 L283.6,93.25 L284,93 L284.4,92.92 L284.8,92.99 L285.2,93.22 L285.6,93.56 L286,94 L286.4,94.48 L286.8,94.96 L287.2,95.4 L287.6,95.76 L288,96.01 L288.4,96.13 L288.8,96.12 L289.2,95.99 L289.6,95.75 L290,95.43 L290.4,95.07 L290.8,94.7 L291.2,94.36 L291.6,94.07 L292,93.86 L292.4,93.76 L292.8,93.76 L293.2,93.87 L293.6,94.06 L294,94.32 L294.4,94.63 L294.8,94.95 L295.2,95.25 L295.6,95.51 L296,95.7 L296.4,95.82 L296.8,95.84 L297.2,95.78 L297.6,95.65 L298,95.45 L298.4,95.2 L298.8,94.94 L299.2,94.69 L299.6,94.47 L300,94.31 L300.4,94.2 L300.8,94.17 L301.2,94.21 L301.6,94.32 L302,94.48 L302.4,94.68 L302.8,94.91 L303.2,95.12 L303.6,95.32 L304,95.48 L304.4,95.58 L304.8,95.62 L305.2,95.6 L305.6,95.52 L306,95.39 L306.4,95.22 L306.8,95.03 L307.2,94.85 L307.6,94.67 L308,94.53 L308.4,94.43 L308.8,94.39 L309.2,94.39 L309.6,94.45 L310,94.56 L310.4,94.69 L310.8,94.85 L311.2,95.02 L311.6,95.17 L312,95.3 L312.4,95.39 L312.8,95.44 L313.2,95.44 L313.6,95.4 L314,95.31 L314.4,95.2 L314.8,95.06 L315.2,94.91 L315.6,94.77 L316,94.65 L316.4,94.56 L316.8,94.5 L317.2,94.49 L317.6,94.52 L318,94.59 L318.4,94.68 L318.8,94.8 L319.2,94.93 L319.6,95.06 L320,95.17 L320.4,95.25 L320.8,95.3 L321.2,95.32 L321.6,95.3 L322,95.24 L322.4,95.15 L322.8,95.05 L323.2,94.93 L323.6,94.81 L324,94.71 L324.4,94.62 L324.8,94.57 L325.2,94.54 L325.6,94.55 L326,94.6 L326.4,94.67 L326.8,94.76 L327.2,94.86 L327.6,94.96 L328,95.06 L328.4,95.14 L328.8,95.19 L329.2,95.22 L329.6,95.21 L330,95.18 L330.4,95.11 L330.8,95.03 L331.2,94.93 L331.6,94.84 L332,94.74 L332.4,94.67 L332.8,94.61 L333.2,94.58 L333.6,94.57 L334,94.6 L334.4,94.65 L334.8,94.72 L335.2,94.8 L335.6,94.89 L336,94.98 L336.4,95.05 L336.8,95.11 L337.2,95.14 L337.6,95.14 L338,95.12 L338.4,95.08 L338.8,95.01 L339.2,94.93 L339.6,94.85 L340,94.76 L340.4,94.69 L340.8,94.63 L341.2,94.6 L341.6,94.59 L342,94.6 L342.4,94.63 L342.8,94.69 L343.2,94.76 L343.6,94.84 L344,94.91 L344.4,94.98 L344.8,95.04 L345.2,95.07 L345.6,95.09 L346,95.08 L346.4,95.04 L346.8,94.99 L347.2,94.93 L347.6,94.85 L348,94.78 L348.4,94.71 L348.8,94.65 L349.2,94.61 L349.6,94.59 L350,94.6 L350.4,94.62 L350.8,94.67 L351.2,94.72 L351.6,94.79 L352,94.86 L352.4,94.92 L352.8,94.98 L353.2,95.02 L353.6,95.04 L354,95.04 L354.4,95.02 L354.8,94.98 L355.2,94.92 L355.6,94.86 L356,94.79 L356.4,94.73 L356.8,94.67 L357.2,94.63 L357.6,94.6 L358,94.6 L358.4,94.61 L358.8,94.65 L359.2,94.69 L359.6,94.75 L360,94.82 L360.4,94.88 L360.8,94.93 L361.2,94.97 L361.6,95 L362,95.01 L362.4,95 L362.8,94.96 L363.2,94.92 L363.6,94.86 L364,94.8 L364.4,94.74 L364.8,94.68 L365.2,94.64 L365.6,94.61 L366,94.6 L366.4,94.61 L366.8,94.63 L367.2,94.67 L367.6,94.72 L368,94.78 L368.4,94.84 L368.8,94.89 L369.2,94.94 L369.6,94.97 L370,94.98 L370.4,94.98 L370.8,94.95 L371.2,94.92 L371.6,94.87 L372,94.81 L372.4,94.75 L372.8,94.7 L373.2,94.65 L373.6,94.62 L374,94.6 L374.4,94.6 L374.8,94.62 L375.2,94.65 L375.6,94.7 L376,94.75 L376.4,94.81 L376.8,94.86 L377.2,94.91 L377.6,94.94 L378,94.96 L378.4,94.96 L378.8,94.95 L379.2,94.92 L379.6,94.87 L380,94.82 L380.4,94.77 L380.8,94.71 L381.2,94.67 L381.6,94.63 L382,94.61 L382.4,94.6 L382.8,94.61 L383.2,94.64 L383.6,94.68 L384,94.72 L384.4,94.78 L384.8,94.83 L385.2,94.88 L385.6,94.91 L386,94.94 L386.4,94.95 L386.8,94.94 L387.2,94.92 L387.6,94.88 L388,94.83 L388.4,94.78 L388.8,94.73 L389.2,94.68 L389.6,94.64 L390,94.61 L390.4,94.6 L390.8,94.6 L391.2,94.62 L391.6,94.66 L391.9,94.69 L391.9,125.3 L261.8,125.3 Z" fill="#fee9a4"/><path d="M262,114.95 L264.5,112.83 L266.3,109.81 L268,106.35 L270,103.05 L272,100 L274.5,96 L276.4,93.7 L276.8,93.93 L277.2,94.39 L277.6,95.03 L278,95.77 L278.4,96.56 L278.8,97.31 L279.2,97.97 L279.6,98.48 L280,98.81 L280.4,98.93 L280.8,98.85 L281.2,98.58 L281.6,98.16 L282,97.64 L282.4,97.08 L282.8,96.52 L283.2,96.03 L283.6,95.65 L284,95.4 L284.4,95.32 L284.8,95.39 L285.2,95.62 L285.6,95.96 L286,96.4 L286.4,96.88 L286.8,97.36 L287.2,97.8 L287.6,98.16 L288,98.41 L288.4,98.53 L288.8,98.52 L289.2,98.39 L289.6,98.15 L290,97.83 L290.4,97.47 L290.8,97.1 L291.2,96.76 L291.6,96.47 L292,96.26 L292.4,96.16 L292.8,96.16 L293.2,96.27 L293.6,96.46 L294,96.72 L294.4,97.03 L294.8,97.35 L295.2,97.65 L295.6,97.91 L296,98.1 L296.4,98.22 L296.8,98.24 L297.2,98.18 L297.6,98.05 L298,97.85 L298.4,97.6 L298.8,97.34 L299.2,97.09 L299.6,96.87 L300,96.71 L300.4,96.6 L300.8,96.57 L301.2,96.61 L301.6,96.72 L302,96.88 L302.4,97.08 L302.8,97.31 L303.2,97.52 L303.6,97.72 L304,97.88 L304.4,97.98 L304.8,98.02 L305.2,98 L305.6,97.92 L306,97.79 L306.4,97.62 L306.8,97.43 L307.2,97.25 L307.6,97.07 L308,96.93 L308.4,96.83 L308.8,96.79 L309.2,96.79 L309.6,96.85 L310,96.96 L310.4,97.09 L310.8,97.25 L311.2,97.42 L311.6,97.57 L312,97.7 L312.4,97.79 L312.8,97.84 L313.2,97.84 L313.6,97.8 L314,97.71 L314.4,97.6 L314.8,97.46 L315.2,97.31 L315.6,97.17 L316,97.05 L316.4,96.96 L316.8,96.9 L317.2,96.89 L317.6,96.92 L318,96.99 L318.4,97.08 L318.8,97.2 L319.2,97.33 L319.6,97.46 L320,97.57 L320.4,97.65 L320.8,97.7 L321.2,97.72 L321.6,97.7 L322,97.64 L322.4,97.55 L322.8,97.45 L323.2,97.33 L323.6,97.21 L324,97.11 L324.4,97.02 L324.8,96.97 L325.2,96.94 L325.6,96.95 L326,97 L326.4,97.07 L326.8,97.16 L327.2,97.26 L327.6,97.36 L328,97.46 L328.4,97.54 L328.8,97.59 L329.2,97.62 L329.6,97.61 L330,97.58 L330.4,97.51 L330.8,97.43 L331.2,97.33 L331.6,97.24 L332,97.14 L332.4,97.07 L332.8,97.01 L333.2,96.98 L333.6,96.97 L334,97 L334.4,97.05 L334.8,97.12 L335.2,97.2 L335.6,97.29 L336,97.38 L336.4,97.45 L336.8,97.51 L337.2,97.54 L337.6,97.54 L338,97.52 L338.4,97.48 L338.8,97.41 L339.2,97.33 L339.6,97.25 L340,97.16 L340.4,97.09 L340.8,97.03 L341.2,97 L341.6,96.99 L342,97 L342.4,97.03 L342.8,97.09 L343.2,97.16 L343.6,97.24 L344,97.31 L344.4,97.38 L344.8,97.44 L345.2,97.47 L345.6,97.49 L346,97.48 L346.4,97.44 L346.8,97.39 L347.2,97.33 L347.6,97.25 L348,97.18 L348.4,97.11 L348.8,97.05 L349.2,97.01 L349.6,96.99 L350,97 L350.4,97.02 L350.8,97.07 L351.2,97.12 L351.6,97.19 L352,97.26 L352.4,97.32 L352.8,97.38 L353.2,97.42 L353.6,97.44 L354,97.44 L354.4,97.42 L354.8,97.38 L355.2,97.32 L355.6,97.26 L356,97.19 L356.4,97.13 L356.8,97.07 L357.2,97.03 L357.6,97 L358,97 L358.4,97.01 L358.8,97.05 L359.2,97.09 L359.6,97.15 L360,97.22 L360.4,97.28 L360.8,97.33 L361.2,97.37 L361.6,97.4 L362,97.41 L362.4,97.4 L362.8,97.36 L363.2,97.32 L363.6,97.26 L364,97.2 L364.4,97.14 L364.8,97.08 L365.2,97.04 L365.6,97.01 L366,97 L366.4,97.01 L366.8,97.03 L367.2,97.07 L367.6,97.12 L368,97.18 L368.4,97.24 L368.8,97.29 L369.2,97.34 L369.6,97.37 L370,97.38 L370.4,97.38 L370.8,97.35 L371.2,97.32 L371.6,97.27 L372,97.21 L372.4,97.15 L372.8,97.1 L373.2,97.05 L373.6,97.02 L374,97 L374.4,97 L374.8,97.02 L375.2,97.05 L375.6,97.1 L376,97.15 L376.4,97.21 L376.8,97.26 L377.2,97.31 L377.6,97.34 L378,97.36 L378.4,97.36 L378.8,97.35 L379.2,97.32 L379.6,97.27 L380,97.22 L380.4,97.17 L380.8,97.11 L381.2,97.07 L381.6,97.03 L382,97.01 L382.4,97 L382.8,97.01 L383.2,97.04 L383.6,97.08 L384,97.12 L384.4,97.18 L384.8,97.23 L385.2,97.28 L385.6,97.31 L386,97.34 L386.4,97.35 L386.8,97.34 L387.2,97.32 L387.6,97.28 L388,97.23 L388.4,97.18 L388.8,97.13 L389.2,97.08 L389.6,97.04 L390,97.01 L390.4,97 L390.8,97 L391.2,97.02 L391.6,97.06 L391.9,97.09 L391.9,125.3 L261.8,125.3 Z" fill="#eef4e6"/><path d="M262,121.5 L264.5,118.25 L266.3,114.43 L268,110.2 L270,106 L272,102.5 L274.5,98.5 L276.4,96.2 L276.8,96.43 L277.2,96.89 L277.6,97.53 L278,98.27 L278.4,99.06 L278.8,99.81 L279.2,100.47 L279.6,100.98 L280,101.31 L280.4,101.43 L280.8,101.35 L281.2,101.08 L281.6,100.66 L282,100.14 L282.4,99.58 L282.8,99.02 L283.2,98.53 L283.6,98.15 L284,97.9 L284.4,97.82 L284.8,97.89 L285.2,98.12 L285.6,98.46 L286,98.9 L286.4,99.38 L286.8,99.86 L287.2,100.3 L287.6,100.66 L288,100.91 L288.4,101.03 L288.8,101.02 L289.2,100.89 L289.6,100.65 L290,100.33 L290.4,99.97 L290.8,99.6 L291.2,99.26 L291.6,98.97 L292,98.76 L292.4,98.66 L292.8,98.66 L293.2,98.77 L293.6,98.96 L294,99.22 L294.4,99.53 L294.8,99.85 L295.2,100.15 L295.6,100.41 L296,100.6 L296.4,100.72 L296.8,100.74 L297.2,100.68 L297.6,100.55 L298,100.35 L298.4,100.1 L298.8,99.84 L299.2,99.59 L299.6,99.37 L300,99.21 L300.4,99.1 L300.8,99.07 L301.2,99.11 L301.6,99.22 L302,99.38 L302.4,99.58 L302.8,99.81 L303.2,100.02 L303.6,100.22 L304,100.38 L304.4,100.48 L304.8,100.52 L305.2,100.5 L305.6,100.42 L306,100.29 L306.4,100.12 L306.8,99.93 L307.2,99.75 L307.6,99.57 L308,99.43 L308.4,99.33 L308.8,99.29 L309.2,99.29 L309.6,99.35 L310,99.46 L310.4,99.59 L310.8,99.75 L311.2,99.92 L311.6,100.07 L312,100.2 L312.4,100.29 L312.8,100.34 L313.2,100.34 L313.6,100.3 L314,100.21 L314.4,100.1 L314.8,99.96 L315.2,99.81 L315.6,99.67 L316,99.55 L316.4,99.46 L316.8,99.4 L317.2,99.39 L317.6,99.42 L318,99.49 L318.4,99.58 L318.8,99.7 L319.2,99.83 L319.6,99.96 L320,100.07 L320.4,100.15 L320.8,100.2 L321.2,100.22 L321.6,100.2 L322,100.14 L322.4,100.05 L322.8,99.95 L323.2,99.83 L323.6,99.71 L324,99.61 L324.4,99.52 L324.8,99.47 L325.2,99.44 L325.6,99.45 L326,99.5 L326.4,99.57 L326.8,99.66 L327.2,99.76 L327.6,99.86 L328,99.96 L328.4,100.04 L328.8,100.09 L329.2,100.12 L329.6,100.11 L330,100.08 L330.4,100.01 L330.8,99.93 L331.2,99.83 L331.6,99.74 L332,99.64 L332.4,99.57 L332.8,99.51 L333.2,99.48 L333.6,99.47 L334,99.5 L334.4,99.55 L334.8,99.62 L335.2,99.7 L335.6,99.79 L336,99.88 L336.4,99.95 L336.8,100.01 L337.2,100.04 L337.6,100.04 L338,100.02 L338.4,99.98 L338.8,99.91 L339.2,99.83 L339.6,99.75 L340,99.66 L340.4,99.59 L340.8,99.53 L341.2,99.5 L341.6,99.49 L342,99.5 L342.4,99.53 L342.8,99.59 L343.2,99.66 L343.6,99.74 L344,99.81 L344.4,99.88 L344.8,99.94 L345.2,99.97 L345.6,99.99 L346,99.98 L346.4,99.94 L346.8,99.89 L347.2,99.83 L347.6,99.75 L348,99.68 L348.4,99.61 L348.8,99.55 L349.2,99.51 L349.6,99.49 L350,99.5 L350.4,99.52 L350.8,99.57 L351.2,99.62 L351.6,99.69 L352,99.76 L352.4,99.82 L352.8,99.88 L353.2,99.92 L353.6,99.94 L354,99.94 L354.4,99.92 L354.8,99.88 L355.2,99.82 L355.6,99.76 L356,99.69 L356.4,99.63 L356.8,99.57 L357.2,99.53 L357.6,99.5 L358,99.5 L358.4,99.51 L358.8,99.55 L359.2,99.59 L359.6,99.65 L360,99.72 L360.4,99.78 L360.8,99.83 L361.2,99.87 L361.6,99.9 L362,99.91 L362.4,99.9 L362.8,99.86 L363.2,99.82 L363.6,99.76 L364,99.7 L364.4,99.64 L364.8,99.58 L365.2,99.54 L365.6,99.51 L366,99.5 L366.4,99.51 L366.8,99.53 L367.2,99.57 L367.6,99.62 L368,99.68 L368.4,99.74 L368.8,99.79 L369.2,99.84 L369.6,99.87 L370,99.88 L370.4,99.88 L370.8,99.85 L371.2,99.82 L371.6,99.77 L372,99.71 L372.4,99.65 L372.8,99.6 L373.2,99.55 L373.6,99.52 L374,99.5 L374.4,99.5 L374.8,99.52 L375.2,99.55 L375.6,99.6 L376,99.65 L376.4,99.71 L376.8,99.76 L377.2,99.81 L377.6,99.84 L378,99.86 L378.4,99.86 L378.8,99.85 L379.2,99.82 L379.6,99.77 L380,99.72 L380.4,99.67 L380.8,99.61 L381.2,99.57 L381.6,99.53 L382,99.51 L382.4,99.5 L382.8,99.51 L383.2,99.54 L383.6,99.58 L384,99.62 L384.4,99.68 L384.8,99.73 L385.2,99.78 L385.6,99.81 L386,99.84 L386.4,99.85 L386.8,99.84 L387.2,99.82 L387.6,99.78 L388,99.73 L388.4,99.68 L388.8,99.63 L389.2,99.58 L389.6,99.54 L390,99.51 L390.4,99.5 L390.8,99.5 L391.2,99.52 L391.6,99.56 L391.9,99.59 L391.9,125.3 L261.8,125.3 Z" fill="#bcdbe9"/><path d="M261.8,121.6 L263.5,120.9 L265.2,119.4 L266.4,117 L267.3,113.4 L268.3,109.8 L270,106.6 L272,103.6 L274,101 L275.8,99.2 L276.2,99.42 L276.6,99.87 L277,100.51 L277.4,101.27 L277.8,102.08 L278.2,102.86 L278.6,103.55 L279,104.09 L279.4,104.44 L279.8,104.57 L280.2,104.48 L280.6,104.19 L281,103.73 L281.4,103.17 L281.8,102.55 L282.2,101.94 L282.6,101.39 L283,100.96 L283.4,100.68 L283.8,100.58 L284.2,100.65 L284.6,100.89 L285,101.27 L285.4,101.75 L285.8,102.28 L286.2,102.82 L286.6,103.31 L287,103.71 L287.4,103.99 L287.8,104.13 L288.2,104.12 L288.6,103.97 L289,103.7 L289.4,103.34 L289.8,102.92 L290.2,102.49 L290.6,102.1 L291,101.76 L291.4,101.52 L291.8,101.4 L292.2,101.4 L292.6,101.52 L293,101.74 L293.4,102.04 L293.8,102.4 L294.2,102.77 L294.6,103.12 L295,103.43 L295.4,103.66 L295.8,103.79 L296.2,103.82 L296.6,103.75 L297,103.59 L297.4,103.36 L297.8,103.07 L298.2,102.77 L298.6,102.47 L299,102.21 L299.4,102.01 L299.8,101.89 L300.2,101.85 L300.6,101.9 L301,102.03 L301.4,102.22 L301.8,102.47 L302.2,102.73 L302.6,102.99 L303,103.22 L303.4,103.41 L303.8,103.53 L304.2,103.58 L304.6,103.56 L305,103.46 L305.4,103.31 L305.8,103.11 L306.2,102.89 L306.6,102.67 L307,102.46 L307.4,102.3 L307.8,102.18 L308.2,102.13 L308.6,102.14 L309,102.21 L309.4,102.33 L309.8,102.5 L310.2,102.69 L310.6,102.88 L311,103.07 L311.4,103.22 L311.8,103.33 L312.2,103.39 L312.6,103.39 L313,103.34 L313.4,103.24 L313.8,103.1 L314.2,102.94 L314.6,102.77 L315,102.6 L315.4,102.46 L315.8,102.36 L316.2,102.3 L316.6,102.28 L317,102.32 L317.4,102.4 L317.8,102.51 L318.2,102.65 L318.6,102.8 L319,102.95 L319.4,103.08 L319.8,103.17 L320.2,103.24 L320.6,103.25 L321,103.23 L321.4,103.16 L321.8,103.07 L322.2,102.94 L322.6,102.81 L323,102.68 L323.4,102.56 L323.8,102.46 L324.2,102.4 L324.6,102.37 L325,102.39 L325.4,102.44 L325.8,102.52 L326.2,102.62 L326.6,102.74 L327,102.86 L327.4,102.97 L327.8,103.05 L328.2,103.12 L328.6,103.14 L329,103.14 L329.4,103.1 L329.8,103.03 L330.2,102.93 L330.6,102.83 L331,102.72 L331.4,102.62 L331.8,102.53 L332.2,102.47 L332.6,102.43 L333,102.43 L333.4,102.46 L333.8,102.52 L334.2,102.59 L334.6,102.69 L335,102.79 L335.4,102.88 L335.8,102.96 L336.2,103.02 L336.6,103.06 L337,103.06 L337.4,103.04 L337.8,102.99 L338.2,102.92 L338.6,102.83 L339,102.74 L339.4,102.65 L339.8,102.57 L340.2,102.51 L340.6,102.47 L341,102.46 L341.4,102.47 L341.8,102.51 L342.2,102.57 L342.6,102.65 L343,102.73 L343.4,102.81 L343.8,102.89 L344.2,102.95 L344.6,102.99 L345,103 L345.4,102.99 L345.8,102.96 L346.2,102.9 L346.6,102.83 L347,102.75 L347.4,102.67 L347.8,102.6 L348.2,102.54 L348.6,102.5 L349,102.48 L349.4,102.48 L349.8,102.51 L350.2,102.55 L350.6,102.62 L351,102.69 L351.4,102.76 L351.8,102.83 L352.2,102.89 L352.6,102.93 L353,102.95 L353.4,102.95 L353.8,102.93 L354.2,102.89 L354.6,102.83 L355,102.76 L355.4,102.69 L355.8,102.62 L356.2,102.56 L356.6,102.52 L357,102.49 L357.4,102.49 L357.8,102.5 L358.2,102.54 L358.6,102.59 L359,102.65 L359.4,102.72 L359.8,102.78 L360.2,102.84 L360.6,102.88 L361,102.91 L361.4,102.92 L361.8,102.9 L362.2,102.87 L362.6,102.82 L363,102.77 L363.4,102.7 L363.8,102.64 L364.2,102.58 L364.6,102.53 L365,102.5 L365.4,102.49 L365.8,102.5 L366.2,102.53 L366.6,102.57 L367,102.62 L367.4,102.68 L367.8,102.74 L368.2,102.8 L368.6,102.84 L369,102.87 L369.4,102.89 L369.8,102.88 L370.2,102.86 L370.6,102.82 L371,102.77 L371.4,102.71 L371.8,102.65 L372.2,102.6 L372.6,102.55 L373,102.52 L373.4,102.5 L373.8,102.5 L374.2,102.52 L374.6,102.55 L375,102.6 L375.4,102.65 L375.8,102.71 L376.2,102.76 L376.6,102.81 L377,102.84 L377.4,102.86 L377.8,102.87 L378.2,102.85 L378.6,102.82 L379,102.78 L379.4,102.72 L379.8,102.67 L380.2,102.61 L380.6,102.56 L381,102.53 L381.4,102.5 L381.8,102.5 L382.2,102.51 L382.6,102.53 L383,102.57 L383.4,102.62 L383.8,102.68 L384.2,102.73 L384.6,102.78 L385,102.82 L385.4,102.84 L385.8,102.85 L386.2,102.84 L386.6,102.82 L387,102.78 L387.4,102.73 L387.8,102.68 L388.2,102.63 L388.6,102.58 L389,102.54 L389.4,102.51 L389.8,102.5 L390.2,102.5 L390.6,102.52 L391,102.56 L391.4,102.6 L391.8,102.65 L391.9,102.67 L391.9,125.3 L261.8,125.3 Z" fill="url(#gBlue)"/></g></g>
<path d="M261.8,30.5 L263,33.4 L264.2,38.5 L265,44.5 L265.6,51.2 L391.9,51.2" stroke="#3a2a2a" stroke-width="0.6" stroke-dasharray="0.9 0.7" fill="none" clip-path="url(#bclip)"/>
<path d="M265,110 L266.3,104.7 L267.4,97 L268.4,90.5 L269.6,87.2 L271.2,84.5 L272.6,80 L274,74.5 L275.6,69.5 L276.8,67.6 L277.2,68.22 L277.6,69.36 L278,70.89 L278.4,72.67 L278.8,74.54 L279.2,76.33 L279.6,77.9 L280,79.13 L280.4,79.93 L280.8,80.27 L281.2,80.14 L281.6,79.57 L282,78.66 L282.4,77.49 L282.8,76.19 L283.2,74.88 L283.6,73.67 L284,72.68 L284.4,71.99 L284.8,71.63 L285.2,71.65 L285.6,72.01 L286,72.67 L286.4,73.57 L286.8,74.62 L287.2,75.72 L287.6,76.76 L288,77.67 L288.4,78.37 L288.8,78.8 L289.2,78.93 L289.6,78.76 L290,78.33 L290.4,77.67 L290.8,76.86 L291.2,75.97 L291.6,75.09 L292,74.29 L292.4,73.64 L292.8,73.19 L293.2,72.98 L293.6,73.02 L294,73.3 L294.4,73.78 L294.8,74.42 L295.2,75.15 L295.6,75.9 L296,76.61 L296.4,77.21 L296.8,77.66 L297.2,77.91 L297.6,77.95 L298,77.78 L298.4,77.43 L298.8,76.92 L299.2,76.31 L299.6,75.66 L300,75.02 L300.4,74.46 L300.8,74.01 L301.2,73.72 L301.6,73.6 L302,73.67 L302.4,73.91 L302.8,74.29 L303.2,74.78 L303.6,75.32 L304,75.87 L304.4,76.38 L304.8,76.8 L305.2,77.1 L305.6,77.25 L306,77.24 L306.4,77.08 L306.8,76.78 L307.2,76.38 L307.6,75.92 L308,75.43 L308.4,74.96 L308.8,74.55 L309.2,74.24 L309.6,74.05 L310,74 L310.4,74.08 L310.8,74.29 L311.2,74.6 L311.6,74.98 L312,75.4 L312.4,75.81 L312.8,76.18 L313.2,76.48 L313.6,76.68 L314,76.76 L314.4,76.73 L314.8,76.58 L315.2,76.33 L315.6,76.02 L316,75.65 L316.4,75.28 L316.8,74.94 L317.2,74.64 L317.6,74.43 L318,74.31 L318.4,74.3 L318.8,74.39 L319.2,74.57 L319.6,74.82 L320,75.12 L320.4,75.44 L320.8,75.75 L321.2,76.02 L321.6,76.23 L322,76.37 L322.4,76.41 L322.8,76.36 L323.2,76.23 L323.6,76.02 L324,75.77 L324.4,75.49 L324.8,75.21 L325.2,74.95 L325.6,74.74 L326,74.6 L326.4,74.53 L326.8,74.53 L327.2,74.62 L327.6,74.78 L328,74.98 L328.4,75.22 L328.8,75.47 L329.2,75.7 L329.6,75.9 L330,76.05 L330.4,76.13 L330.8,76.15 L331.2,76.1 L331.6,75.98 L332,75.81 L332.4,75.61 L332.8,75.39 L333.2,75.18 L333.6,74.99 L334,74.84 L334.4,74.74 L334.8,74.7 L335.2,74.73 L335.6,74.81 L336,74.94 L336.4,75.11 L336.8,75.29 L337.2,75.48 L337.6,75.66 L338,75.8 L338.4,75.91 L338.8,75.96 L339.2,75.96 L339.6,75.91 L340,75.81 L340.4,75.67 L340.8,75.51 L341.2,75.34 L341.6,75.18 L342,75.04 L342.4,74.94 L342.8,74.87 L343.2,74.85 L343.6,74.88 L344,74.96 L344.4,75.07 L344.8,75.2 L345.2,75.35 L345.6,75.49 L346,75.62 L346.4,75.73 L346.8,75.8 L347.2,75.83 L347.6,75.82 L348,75.77 L348.4,75.69 L348.8,75.58 L349.2,75.45 L349.6,75.32 L350,75.2 L350.4,75.1 L350.8,75.02 L351.2,74.98 L351.6,74.98 L352,75.01 L352.4,75.07 L352.8,75.17 L353.2,75.27 L353.6,75.39 L354,75.5 L354.4,75.6 L354.8,75.68 L355.2,75.72 L355.6,75.74 L356,75.72 L356.4,75.68 L356.8,75.61 L357.2,75.52 L357.6,75.42 L358,75.32 L358.4,75.23 L358.8,75.15 L359.2,75.1 L359.6,75.07 L360,75.08 L360.4,75.11 L360.8,75.17 L361.2,75.24 L361.6,75.33 L362,75.42 L362.4,75.5 L362.8,75.58 L363.2,75.63 L363.6,75.67 L364,75.67 L364.4,75.65 L364.8,75.61 L365.2,75.55 L365.6,75.48 L366,75.4 L366.4,75.32 L366.8,75.26 L367.2,75.2 L367.6,75.17 L368,75.15 L368.4,75.16 L368.8,75.19 L369.2,75.24 L369.6,75.3 L370,75.37 L370.4,75.44 L370.8,75.51 L371.2,75.56 L371.6,75.6 L372,75.62 L372.4,75.62 L372.8,75.6 L373.2,75.57 L373.6,75.52 L374,75.46 L374.4,75.4 L374.8,75.34 L375.2,75.29 L375.6,75.25 L376,75.22 L376.4,75.22 L376.8,75.23 L377.2,75.26 L377.6,75.3 L378,75.35 L378.4,75.4 L378.8,75.46 L379.2,75.51 L379.6,75.55 L380,75.58 L380.4,75.59 L380.8,75.58 L381.2,75.57 L381.6,75.54 L382,75.49 L382.4,75.45 L382.8,75.4 L383.2,75.35 L383.6,75.32 L384,75.29 L384.4,75.27 L384.8,75.27 L385.2,75.28 L385.6,75.31 L386,75.34 L386.4,75.38 L386.8,75.43 L387.2,75.47 L387.6,75.51 L388,75.54 L388.4,75.56 L388.8,75.56 L389.2,75.56 L389.6,75.54 L390,75.51 L390.4,75.48 L390.8,75.44 L391.2,75.41 L391.6,75.37 L391.9,75.35" stroke="#4a3030" stroke-width="0.6" stroke-dasharray="0.9 0.7" fill="none" clip-path="url(#bclip)"/>
<path d="M262,108.5 L264.5,107.5 L266.3,105.3 L268,102.6 L270,100.2 L272,97.6 L274.5,93.6 L276.4,91.3 L276.8,91.53 L277.2,91.99 L277.6,92.63 L278,93.37 L278.4,94.16 L278.8,94.91 L279.2,95.57 L279.6,96.08 L280,96.41 L280.4,96.53 L280.8,96.45 L281.2,96.18 L281.6,95.76 L282,95.24 L282.4,94.68 L282.8,94.12 L283.2,93.63 L283.6,93.25 L284,93 L284.4,92.92 L284.8,92.99 L285.2,93.22 L285.6,93.56 L286,94 L286.4,94.48 L286.8,94.96 L287.2,95.4 L287.6,95.76 L288,96.01 L288.4,96.13 L288.8,96.12 L289.2,95.99 L289.6,95.75 L290,95.43 L290.4,95.07 L290.8,94.7 L291.2,94.36 L291.6,94.07 L292,93.86 L292.4,93.76 L292.8,93.76 L293.2,93.87 L293.6,94.06 L294,94.32 L294.4,94.63 L294.8,94.95 L295.2,95.25 L295.6,95.51 L296,95.7 L296.4,95.82 L296.8,95.84 L297.2,95.78 L297.6,95.65 L298,95.45 L298.4,95.2 L298.8,94.94 L299.2,94.69 L299.6,94.47 L300,94.31 L300.4,94.2 L300.8,94.17 L301.2,94.21 L301.6,94.32 L302,94.48 L302.4,94.68 L302.8,94.91 L303.2,95.12 L303.6,95.32 L304,95.48 L304.4,95.58 L304.8,95.62 L305.2,95.6 L305.6,95.52 L306,95.39 L306.4,95.22 L306.8,95.03 L307.2,94.85 L307.6,94.67 L308,94.53 L308.4,94.43 L308.8,94.39 L309.2,94.39 L309.6,94.45 L310,94.56 L310.4,94.69 L310.8,94.85 L311.2,95.02 L311.6,95.17 L312,95.3 L312.4,95.39 L312.8,95.44 L313.2,95.44 L313.6,95.4 L314,95.31 L314.4,95.2 L314.8,95.06 L315.2,94.91 L315.6,94.77 L316,94.65 L316.4,94.56 L316.8,94.5 L317.2,94.49 L317.6,94.52 L318,94.59 L318.4,94.68 L318.8,94.8 L319.2,94.93 L319.6,95.06 L320,95.17 L320.4,95.25 L320.8,95.3 L321.2,95.32 L321.6,95.3 L322,95.24 L322.4,95.15 L322.8,95.05 L323.2,94.93 L323.6,94.81 L324,94.71 L324.4,94.62 L324.8,94.57 L325.2,94.54 L325.6,94.55 L326,94.6 L326.4,94.67 L326.8,94.76 L327.2,94.86 L327.6,94.96 L328,95.06 L328.4,95.14 L328.8,95.19 L329.2,95.22 L329.6,95.21 L330,95.18 L330.4,95.11 L330.8,95.03 L331.2,94.93 L331.6,94.84 L332,94.74 L332.4,94.67 L332.8,94.61 L333.2,94.58 L333.6,94.57 L334,94.6 L334.4,94.65 L334.8,94.72 L335.2,94.8 L335.6,94.89 L336,94.98 L336.4,95.05 L336.8,95.11 L337.2,95.14 L337.6,95.14 L338,95.12 L338.4,95.08 L338.8,95.01 L339.2,94.93 L339.6,94.85 L340,94.76 L340.4,94.69 L340.8,94.63 L341.2,94.6 L341.6,94.59 L342,94.6 L342.4,94.63 L342.8,94.69 L343.2,94.76 L343.6,94.84 L344,94.91 L344.4,94.98 L344.8,95.04 L345.2,95.07 L345.6,95.09 L346,95.08 L346.4,95.04 L346.8,94.99 L347.2,94.93 L347.6,94.85 L348,94.78 L348.4,94.71 L348.8,94.65 L349.2,94.61 L349.6,94.59 L350,94.6 L350.4,94.62 L350.8,94.67 L351.2,94.72 L351.6,94.79 L352,94.86 L352.4,94.92 L352.8,94.98 L353.2,95.02 L353.6,95.04 L354,95.04 L354.4,95.02 L354.8,94.98 L355.2,94.92 L355.6,94.86 L356,94.79 L356.4,94.73 L356.8,94.67 L357.2,94.63 L357.6,94.6 L358,94.6 L358.4,94.61 L358.8,94.65 L359.2,94.69 L359.6,94.75 L360,94.82 L360.4,94.88 L360.8,94.93 L361.2,94.97 L361.6,95 L362,95.01 L362.4,95 L362.8,94.96 L363.2,94.92 L363.6,94.86 L364,94.8 L364.4,94.74 L364.8,94.68 L365.2,94.64 L365.6,94.61 L366,94.6 L366.4,94.61 L366.8,94.63 L367.2,94.67 L367.6,94.72 L368,94.78 L368.4,94.84 L368.8,94.89 L369.2,94.94 L369.6,94.97 L370,94.98 L370.4,94.98 L370.8,94.95 L371.2,94.92 L371.6,94.87 L372,94.81 L372.4,94.75 L372.8,94.7 L373.2,94.65 L373.6,94.62 L374,94.6 L374.4,94.6 L374.8,94.62 L375.2,94.65 L375.6,94.7 L376,94.75 L376.4,94.81 L376.8,94.86 L377.2,94.91 L377.6,94.94 L378,94.96 L378.4,94.96 L378.8,94.95 L379.2,94.92 L379.6,94.87 L380,94.82 L380.4,94.77 L380.8,94.71 L381.2,94.67 L381.6,94.63 L382,94.61 L382.4,94.6 L382.8,94.61 L383.2,94.64 L383.6,94.68 L384,94.72 L384.4,94.78 L384.8,94.83 L385.2,94.88 L385.6,94.91 L386,94.94 L386.4,94.95 L386.8,94.94 L387.2,94.92 L387.6,94.88 L388,94.83 L388.4,94.78 L388.8,94.73 L389.2,94.68 L389.6,94.64 L390,94.61 L390.4,94.6 L390.8,94.6 L391.2,94.62 L391.6,94.66 L391.9,94.69" stroke="#3a2c24" stroke-width="0.7" stroke-dasharray="1 0.6" fill="none" clip-path="url(#bclip)"/>
<path d="M261.8,121.6 L263.5,120.9 L265.2,119.4 L266.4,117 L267.3,113.4 L268.3,109.8 L270,106.6 L272,103.6 L274,101 L275.8,99.2 L276.2,99.42 L276.6,99.87 L277,100.51 L277.4,101.27 L277.8,102.08 L278.2,102.86 L278.6,103.55 L279,104.09 L279.4,104.44 L279.8,104.57 L280.2,104.48 L280.6,104.19 L281,103.73 L281.4,103.17 L281.8,102.55 L282.2,101.94 L282.6,101.39 L283,100.96 L283.4,100.68 L283.8,100.58 L284.2,100.65 L284.6,100.89 L285,101.27 L285.4,101.75 L285.8,102.28 L286.2,102.82 L286.6,103.31 L287,103.71 L287.4,103.99 L287.8,104.13 L288.2,104.12 L288.6,103.97 L289,103.7 L289.4,103.34 L289.8,102.92 L290.2,102.49 L290.6,102.1 L291,101.76 L291.4,101.52 L291.8,101.4 L292.2,101.4 L292.6,101.52 L293,101.74 L293.4,102.04 L293.8,102.4 L294.2,102.77 L294.6,103.12 L295,103.43 L295.4,103.66 L295.8,103.79 L296.2,103.82 L296.6,103.75 L297,103.59 L297.4,103.36 L297.8,103.07 L298.2,102.77 L298.6,102.47 L299,102.21 L299.4,102.01 L299.8,101.89 L300.2,101.85 L300.6,101.9 L301,102.03 L301.4,102.22 L301.8,102.47 L302.2,102.73 L302.6,102.99 L303,103.22 L303.4,103.41 L303.8,103.53 L304.2,103.58 L304.6,103.56 L305,103.46 L305.4,103.31 L305.8,103.11 L306.2,102.89 L306.6,102.67 L307,102.46 L307.4,102.3 L307.8,102.18 L308.2,102.13 L308.6,102.14 L309,102.21 L309.4,102.33 L309.8,102.5 L310.2,102.69 L310.6,102.88 L311,103.07 L311.4,103.22 L311.8,103.33 L312.2,103.39 L312.6,103.39 L313,103.34 L313.4,103.24 L313.8,103.1 L314.2,102.94 L314.6,102.77 L315,102.6 L315.4,102.46 L315.8,102.36 L316.2,102.3 L316.6,102.28 L317,102.32 L317.4,102.4 L317.8,102.51 L318.2,102.65 L318.6,102.8 L319,102.95 L319.4,103.08 L319.8,103.17 L320.2,103.24 L320.6,103.25 L321,103.23 L321.4,103.16 L321.8,103.07 L322.2,102.94 L322.6,102.81 L323,102.68 L323.4,102.56 L323.8,102.46 L324.2,102.4 L324.6,102.37 L325,102.39 L325.4,102.44 L325.8,102.52 L326.2,102.62 L326.6,102.74 L327,102.86 L327.4,102.97 L327.8,103.05 L328.2,103.12 L328.6,103.14 L329,103.14 L329.4,103.1 L329.8,103.03 L330.2,102.93 L330.6,102.83 L331,102.72 L331.4,102.62 L331.8,102.53 L332.2,102.47 L332.6,102.43 L333,102.43 L333.4,102.46 L333.8,102.52 L334.2,102.59 L334.6,102.69 L335,102.79 L335.4,102.88 L335.8,102.96 L336.2,103.02 L336.6,103.06 L337,103.06 L337.4,103.04 L337.8,102.99 L338.2,102.92 L338.6,102.83 L339,102.74 L339.4,102.65 L339.8,102.57 L340.2,102.51 L340.6,102.47 L341,102.46 L341.4,102.47 L341.8,102.51 L342.2,102.57 L342.6,102.65 L343,102.73 L343.4,102.81 L343.8,102.89 L344.2,102.95 L344.6,102.99 L345,103 L345.4,102.99 L345.8,102.96 L346.2,102.9 L346.6,102.83 L347,102.75 L347.4,102.67 L347.8,102.6 L348.2,102.54 L348.6,102.5 L349,102.48 L349.4,102.48 L349.8,102.51 L350.2,102.55 L350.6,102.62 L351,102.69 L351.4,102.76 L351.8,102.83 L352.2,102.89 L352.6,102.93 L353,102.95 L353.4,102.95 L353.8,102.93 L354.2,102.89 L354.6,102.83 L355,102.76 L355.4,102.69 L355.8,102.62 L356.2,102.56 L356.6,102.52 L357,102.49 L357.4,102.49 L357.8,102.5 L358.2,102.54 L358.6,102.59 L359,102.65 L359.4,102.72 L359.8,102.78 L360.2,102.84 L360.6,102.88 L361,102.91 L361.4,102.92 L361.8,102.9 L362.2,102.87 L362.6,102.82 L363,102.77 L363.4,102.7 L363.8,102.64 L364.2,102.58 L364.6,102.53 L365,102.5 L365.4,102.49 L365.8,102.5 L366.2,102.53 L366.6,102.57 L367,102.62 L367.4,102.68 L367.8,102.74 L368.2,102.8 L368.6,102.84 L369,102.87 L369.4,102.89 L369.8,102.88 L370.2,102.86 L370.6,102.82 L371,102.77 L371.4,102.71 L371.8,102.65 L372.2,102.6 L372.6,102.55 L373,102.52 L373.4,102.5 L373.8,102.5 L374.2,102.52 L374.6,102.55 L375,102.6 L375.4,102.65 L375.8,102.71 L376.2,102.76 L376.6,102.81 L377,102.84 L377.4,102.86 L377.8,102.87 L378.2,102.85 L378.6,102.82 L379,102.78 L379.4,102.72 L379.8,102.67 L380.2,102.61 L380.6,102.56 L381,102.53 L381.4,102.5 L381.8,102.5 L382.2,102.51 L382.6,102.53 L383,102.57 L383.4,102.62 L383.8,102.68 L384.2,102.73 L384.6,102.78 L385,102.82 L385.4,102.84 L385.8,102.85 L386.2,102.84 L386.6,102.82 L387,102.78 L387.4,102.73 L387.8,102.68 L388.2,102.63 L388.6,102.58 L389,102.54 L389.4,102.51 L389.8,102.5 L390.2,102.5 L390.6,102.52 L391,102.56 L391.4,102.6 L391.8,102.65 L391.9,102.67" stroke="#353f4c" stroke-width="1.1" fill="none" clip-path="url(#bclip)"/>
<rect x="279.9" y="5.1" width="3.78" height="5.7" fill="rgb(82, 132, 188)"/>
<rect x="283.63" y="5.1" width="3.78" height="5.7" fill="rgb(107, 162, 203)"/>
<rect x="287.37" y="5.1" width="3.78" height="5.7" fill="rgb(134, 188, 217)"/>
<rect x="291.1" y="5.1" width="3.78" height="5.7" fill="rgb(164, 211, 230)"/>
<rect x="294.83" y="5.1" width="3.78" height="5.7" fill="rgb(192, 227, 239)"/>
<rect x="298.57" y="5.1" width="3.78" height="5.7" fill="rgb(220, 241, 247)"/>
<rect x="302.3" y="5.1" width="3.78" height="5.7" fill="rgb(238, 249, 221)"/>
<rect x="306.03" y="5.1" width="3.78" height="5.7" fill="rgb(255, 255, 191)"/>
<rect x="309.77" y="5.1" width="3.78" height="5.7" fill="rgb(254, 238, 166)"/>
<rect x="313.5" y="5.1" width="3.78" height="5.7" fill="rgb(254, 221, 141)"/>
<rect x="317.23" y="5.1" width="3.78" height="5.7" fill="rgb(253, 194, 116)"/>
<rect x="320.97" y="5.1" width="3.78" height="5.7" fill="rgb(252, 165, 93)"/>
<rect x="324.7" y="5.1" width="3.78" height="5.7" fill="rgb(247, 131, 77)"/>
<rect x="328.43" y="5.1" width="3.78" height="5.7" fill="rgb(238, 97, 61)"/>
<rect x="332.17" y="5.1" width="3.78" height="5.7" fill="rgb(223, 64, 46)"/>
<rect x="279.9" y="5.1" width="56.0" height="5.7" fill="none" stroke="#b04030" stroke-width="0.3"/>
<text x="269" y="15.6" font-size="3.8" fill="#fff" font-style="italic" style="stroke:none">Ma</text>
<text x="280.3" y="15.6" font-size="3.8" fill="#fff" text-anchor="middle" style="stroke:none">0</text>
<text x="287.75" y="15.6" font-size="3.8" fill="#fff" text-anchor="middle" style="stroke:none">1</text>
<text x="295.2" y="15.6" font-size="3.8" fill="#fff" text-anchor="middle" style="stroke:none">2</text>
<text x="302.65" y="15.6" font-size="3.8" fill="#fff" text-anchor="middle" style="stroke:none">3</text>
<text x="310.1" y="15.6" font-size="3.8" fill="#fff" text-anchor="middle" style="stroke:none">4</text>
<text x="317.55" y="15.6" font-size="3.8" fill="#fff" text-anchor="middle" style="stroke:none">5</text>
<text x="325" y="15.6" font-size="3.8" fill="#fff" text-anchor="middle" style="stroke:none">6</text>
<text x="332.45" y="15.6" font-size="3.8" fill="#fff" text-anchor="middle" style="stroke:none">7</text>
<path d="M261.8,3.0H391.5V76" stroke="#d8402a" stroke-width="0.8" fill="none"/>
<path d="M261.8,125.3h2.2M261.8,94.7h2.2M261.8,64.1h2.2M261.8,33.5h2.2M261.8,2.9h2.2M262.2,125.3v-2.3M270.39,125.3v-1.2M278.58,125.3v-1.2M286.78,125.3v-1.2M294.97,125.3v-2.3M303.16,125.3v-1.2M311.36,125.3v-1.2M319.55,125.3v-1.2M327.74,125.3v-2.3M335.93,125.3v-1.2M344.12,125.3v-1.2M352.32,125.3v-1.2M360.51,125.3v-2.3M368.7,125.3v-1.2M376.89,125.3v-1.2M385.09,125.3v-1.2M393.28,125.3v-2.3" stroke="#111" stroke-width="0.8" fill="none"/>
<path d="M262.5,3.0V125.3H393.58" stroke="#111" stroke-width="1" fill="none"/>
<text x="260.2" y="127.75" font-size="7.2" text-anchor="end">0</text>
<text x="260.2" y="97.15" font-size="7.2" text-anchor="end">2</text>
<text x="260.2" y="66.55" font-size="7.2" text-anchor="end">4</text>
<text x="260.2" y="35.95" font-size="7.2" text-anchor="end">6</text>
<text x="260.2" y="5.35" font-size="7.2" text-anchor="end">8</text>
<text x="262.2" y="132.6" font-size="7.9" text-anchor="middle">0</text>
<text x="294.97" y="132.6" font-size="7.9" text-anchor="middle">20</text>
<text x="327.74" y="132.6" font-size="7.9" text-anchor="middle">40</text>
<text x="360.51" y="132.6" font-size="7.9" text-anchor="middle">60</text>
<text x="393.28" y="132.6" font-size="7.9" text-anchor="middle">80</text>
<text x="324.2" y="140.6" font-size="8.6"><tspan font-style="italic">t</tspan>*</text>
<text transform="translate(252.1,70.4) rotate(-90)" font-size="8.6" font-style="italic">y/h</text>
<text x="236.4" y="8.5" font-size="10.5" font-weight="bold" style="stroke:none">(b)</text>
<text x="272.3" y="64.8" font-size="8.9" fill="#fff" style="stroke:#fff;stroke-width:0.08px"><tspan font-style="italic">St</tspan> ~ 0.20</text>
<text x="310.1" y="64.8" font-size="8.2" fill="#fff" style="stroke:#fff;stroke-width:0.08px">Δ<tspan font-style="italic">t</tspan><tspan font-size="5.5" dy="-3">*</tspan><tspan dy="3"> ~ </tspan><tspan font-style="italic">5</tspan></text>
<path d="M310.6,68V75.2M318.6,68V75.2M311.4,70.5H317.8" stroke="#fff" stroke-width="0.7" fill="none"/>
<path d="M311,70.5l1.6,-1v2zM318.2,70.5l-1.6,-1v2z" fill="#fff"/>
<text x="354.0" y="43.6" font-size="7.7"><tspan font-style="italic">Ma</tspan> = 7</text>
<path d="M353.7,42.0L347.0,50.6" stroke="#111" stroke-width="0.85"/>
<path d="M347,50.6L348.31,47.05L350.12,48.47Z" fill="#111"/>
<text x="354.0" y="68.9" font-size="7.7"><tspan font-style="italic">Ma</tspan> = 6.3</text>
<path d="M353.3,69.5L347.0,75.8" stroke="#111" stroke-width="0.85"/>
<path d="M347,75.8L348.73,72.44L350.36,74.07Z" fill="#111"/>
<text x="354.0" y="88.3" font-size="7.7"><tspan font-style="italic">Ma</tspan> = 5.3</text>
<path d="M353.3,88.8L346.2,94.6" stroke="#111" stroke-width="0.85"/>
<path d="M346.2,94.6L348.26,91.43L349.72,93.21Z" fill="#111"/>
<text x="353.6" y="116.2" font-size="7.7"><tspan font-style="italic">Ma</tspan> = 1</text>
<path d="M352.9,110.4L346.9,103.3" stroke="#111" stroke-width="0.85"/>
<path d="M346.9,103.3L350.1,105.31L348.35,106.79Z" fill="#111"/>
<g transform="translate(0,0)">
<clipPath id="c0clip"><rect x="69.3" y="144.4" width="150.7" height="94.19999999999999"/></clipPath>
<filter id="c0b1" x="-20%" y="-20%" width="140%" height="140%"><feGaussianBlur stdDeviation="0.7"/></filter>
<filter id="c0b2" x="-20%" y="-20%" width="140%" height="140%"><feGaussianBlur stdDeviation="0.5"/></filter>
<defs><linearGradient id="c0gu" x1="0" y1="166" x2="0" y2="188.5" gradientUnits="userSpaceOnUse"><stop offset="0" stop-color="#fbc88e" stop-opacity="0"/><stop offset="0.3" stop-color="#fbc88e" stop-opacity="0.45"/><stop offset="0.55" stop-color="#f59c68" stop-opacity="0.85"/><stop offset="0.72" stop-color="#dd4d36"/><stop offset="0.87" stop-color="#d6432f"/><stop offset="0.94" stop-color="#f3a275"/><stop offset="1" stop-color="#fdeac0" stop-opacity="0"/></linearGradient><linearGradient id="c0gl" x1="0" y1="202.5" x2="0" y2="225" gradientUnits="userSpaceOnUse"><stop offset="0" stop-color="#fdeac0" stop-opacity="0"/><stop offset="0.08" stop-color="#f3a275"/><stop offset="0.16" stop-color="#d6432f"/><stop offset="0.3" stop-color="#dd4d36"/><stop offset="0.47" stop-color="#f59c68" stop-opacity="0.85"/><stop offset="0.72" stop-color="#fbc88e" stop-opacity="0.45"/><stop offset="1" stop-color="#fbc88e" stop-opacity="0"/></linearGradient><linearGradient id="c0gh" x1="152" y1="0" x2="205" y2="0" gradientUnits="userSpaceOnUse"><stop offset="0" stop-color="#fff" stop-opacity="0"/><stop offset="0.4" stop-color="#fff" stop-opacity="0.55"/><stop offset="0.85" stop-color="#fff" stop-opacity="1"/></linearGradient><mask id="c0mh" maskUnits="userSpaceOnUse" x="60" y="140" width="180" height="110"><rect x="60" y="140" width="180" height="110" fill="url(#c0gh)"/></mask><linearGradient id="c0gw" x1="0" y1="187" x2="0" y2="204" gradientUnits="userSpaceOnUse"><stop offset="0" stop-color="#d2e8f0"/><stop offset="0.2" stop-color="#8ebde0"/><stop offset="0.5" stop-color="#5a90cb"/><stop offset="0.78" stop-color="#8ebde0"/><stop offset="1" stop-color="#e6f1ea"/></linearGradient><linearGradient id="c0gcore" x1="171" y1="0" x2="222" y2="0" gradientUnits="userSpaceOnUse"><stop offset="0" stop-color="#4279c0"/><stop offset="0.5" stop-color="#5a8fca"/><stop offset="1" stop-color="#6d9ed3"/></linearGradient></defs>
<g clip-path="url(#c0clip)"><g filter="url(#c0b1)"><rect x="69.3" y="144.4" width="150.7" height="94.19999999999999" fill="#fa9f63"/><path d="M72.3,194.2 L90,192 L104,189.6 L134,182.2 L170,172.9 L220,160.8 L228,158.8 L228,230 L170,216.8 L124,206.2 L100,201 L80,195.9Z" fill="#fee497"/><g mask="url(#c0mh)"><rect x="140" y="166" width="90" height="22.5" fill="url(#c0gu)"/><rect x="150" y="202.5" width="80" height="22.5" fill="url(#c0gl)"/></g><path d="M150.7,185.4 L160,185.7 L172,186.5 L190,187.7 L228,188.2 L228,203.2 L195,203.2 L182,204.8 L171.1,206.8 L171.1,193.9 L150.7,192Z" fill="#c4e0ee"/><path d="M151.2,186.6 L165,187.2 L180,188.6 L228,189.6 L228,201.8 L190,201.8 L178,203.6 L171.5,205.6 L171.5,194.5 L151.2,192Z" fill="#86b5dd"/><path d="M171.5,195.2 L178,194.3 L195,194.3 L228,194.6 L228,198.8 L195,199 L180,200.6 L171.5,204.2Z" fill="url(#c0gcore)"/><path d="M152,190.4 L167,190.6 L167,191.8 L152,191.6Z" fill="#d6e9f2"/></g></g>
<g clip-path="url(#c0clip)"><g filter="url(#c0b2)"><path d="M73.3,194.2L171.1,193.9L171.1,206.0Z" fill="#fff"/><path d="M73.8,194.29999999999998L171.1,206.0" stroke="#6d9ed2" stroke-width="0.9"/><path d="M150.7,193.9H171.1V206" stroke="#3a74bd" stroke-width="1.0" fill="none"/><path d="M75.3,194.2L110,194.8L110,196.5Z" fill="#d6e8f4"/><path d="M84,194.0 L111,191.7 L150.7,191.3 L150.7,194.3 L111,194.4 L84,194.3Z" fill="#2a62b4"/><path d="M109,192.1 L150.7,185.6 L150.7,191.7 L111,192.3Z" fill="#fff"/><path d="M109,192.1L150.7,185.6V191.8" stroke="#5a8ecb" stroke-width="0.9" fill="none"/></g></g>
<path d="M107.2,183.3V193.0" stroke="#fff" stroke-width="0.9"/>
<text x="73.6" y="156.3" font-size="8.75"><tspan font-style="italic">t</tspan>* = 21.69, damping osicllation</text>
<text x="74.9" y="183.9" font-size="10.2" style="stroke-width:0.18px">S<tspan font-size="6.6" dy="2.2">1</tspan></text>
<text x="87.3" y="183.9" font-size="10.2" style="stroke-width:0.18px">S<tspan font-size="6.6" dy="2.2">2</tspan></text>
<text x="101.2" y="178.4" font-size="10.2" style="stroke-width:0.18px">S<tspan font-size="6.6" dy="2.2">3</tspan></text>
<path d="M83.1,184.9L86.62,187.21" stroke="#111" stroke-width="1.1"/><path d="M89.8,189.3L85.91,188.3L87.34,186.13Z" fill="#111"/>
<path d="M93.7,185.4L97.65,188.61" stroke="#111" stroke-width="1.1"/><path d="M100.6,191L96.83,189.61L98.47,187.6Z" fill="#111"/>
<path d="M111.6,179.6L115.41,183.12" stroke="#111" stroke-width="1.1"/><path d="M118.2,185.7L114.53,184.08L116.29,182.17Z" fill="#111"/>
<text x="133.4" y="201.0" font-size="9.9" style="stroke-width:0.25px">ST</text>
<path d="M129.8,197L126.85,194.41" stroke="#111" stroke-width="1.1"/><path d="M124,191.9L127.71,193.43L126,195.39Z" fill="#111"/>
<path d="M71,220.0H171.6" stroke="#3c3c3c" stroke-width="1.2"/>
<path d="M73.1,216.4V220M122.35,216.4V220M171.6,216.4V220" stroke="#222" stroke-width="0.8"/>
<path d="M82.95,218.0V219.4M92.8,218.0V219.4M102.65,218.0V219.4M112.5,218.0V219.4M132.2,218.0V219.4M142.05,218.0V219.4M151.9,218.0V219.4M161.75,218.0V219.4" stroke="#fff" stroke-width="0.6" opacity="0.7"/>
<text x="73.1" y="227.3" font-size="7.4" text-anchor="middle" style="stroke-width:0.3px">0</text>
<text x="122.1" y="227.3" font-size="7.4" text-anchor="middle" style="stroke-width:0.3px">0.5</text>
<text x="171.6" y="227.3" font-size="7.4" text-anchor="middle" style="stroke-width:0.3px">1</text>
<text x="115.0" y="236.4" font-size="9.6" font-style="italic" style="stroke-width:0.3px">x/l<tspan font-size="6.4" dy="1.9" font-style="normal">b</tspan></text>
</g>
<g transform="translate(175.1,0)">
<clipPath id="c1clip"><rect x="69.3" y="144.4" width="150.7" height="94.19999999999999"/></clipPath>
<filter id="c1b1" x="-20%" y="-20%" width="140%" height="140%"><feGaussianBlur stdDeviation="0.7"/></filter>
<filter id="c1b2" x="-20%" y="-20%" width="140%" height="140%"><feGaussianBlur stdDeviation="0.5"/></filter>
<defs><linearGradient id="c1gu" x1="0" y1="166" x2="0" y2="188.5" gradientUnits="userSpaceOnUse"><stop offset="0" stop-color="#fbc88e" stop-opacity="0"/><stop offset="0.3" stop-color="#fbc88e" stop-opacity="0.45"/><stop offset="0.55" stop-color="#f59c68" stop-opacity="0.85"/><stop offset="0.72" stop-color="#dd4d36"/><stop offset="0.87" stop-color="#d6432f"/><stop offset="0.94" stop-color="#f3a275"/><stop offset="1" stop-color="#fdeac0" stop-opacity="0"/></linearGradient><linearGradient id="c1gl" x1="0" y1="202.5" x2="0" y2="225" gradientUnits="userSpaceOnUse"><stop offset="0" stop-color="#fdeac0" stop-opacity="0"/><stop offset="0.08" stop-color="#f3a275"/><stop offset="0.16" stop-color="#d6432f"/><stop offset="0.3" stop-color="#dd4d36"/><stop offset="0.47" stop-color="#f59c68" stop-opacity="0.85"/><stop offset="0.72" stop-color="#fbc88e" stop-opacity="0.45"/><stop offset="1" stop-color="#fbc88e" stop-opacity="0"/></linearGradient><linearGradient id="c1gh" x1="152" y1="0" x2="205" y2="0" gradientUnits="userSpaceOnUse"><stop offset="0" stop-color="#fff" stop-opacity="0"/><stop offset="0.4" stop-color="#fff" stop-opacity="0.55"/><stop offset="0.85" stop-color="#fff" stop-opacity="1"/></linearGradient><mask id="c1mh" maskUnits="userSpaceOnUse" x="60" y="140" width="180" height="110"><rect x="60" y="140" width="180" height="110" fill="url(#c1gh)"/></mask><linearGradient id="c1gw" x1="0" y1="187" x2="0" y2="204" gradientUnits="userSpaceOnUse"><stop offset="0" stop-color="#d2e8f0"/><stop offset="0.2" stop-color="#8ebde0"/><stop offset="0.5" stop-color="#5a90cb"/><stop offset="0.78" stop-color="#8ebde0"/><stop offset="1" stop-color="#e6f1ea"/></linearGradient><linearGradient id="c1gcore" x1="171" y1="0" x2="222" y2="0" gradientUnits="userSpaceOnUse"><stop offset="0" stop-color="#4279c0"/><stop offset="0.5" stop-color="#5a8fca"/><stop offset="1" stop-color="#6d9ed3"/></linearGradient></defs>
<g clip-path="url(#c1clip)"><g filter="url(#c1b1)"><rect x="69.3" y="144.4" width="150.7" height="94.19999999999999" fill="#fa9f63"/><path d="M72.3,194.2 L90,192 L104,189.6 L134,182.2 L170,172.9 L220,160.8 L228,158.8 L228,230 L170,216.8 L124,206.2 L100,201 L80,195.9Z" fill="#fee497"/><g mask="url(#c1mh)"><rect x="140" y="166" width="90" height="22.5" fill="url(#c1gu)"/><rect x="150" y="202.5" width="80" height="22.5" fill="url(#c1gl)"/></g><path d="M150.7,185.4 L160,185.7 L172,186.5 L190,187.7 L228,188.2 L228,203.2 L195,203.2 L182,204.8 L171.1,206.8 L171.1,193.9 L150.7,192Z" fill="#c4e0ee"/><path d="M151.2,186.6 L165,187.2 L180,188.6 L228,189.6 L228,201.8 L190,201.8 L178,203.6 L171.5,205.6 L171.5,194.5 L151.2,192Z" fill="#86b5dd"/><path d="M171.5,195.2 L178,194.3 L195,194.3 L228,194.6 L228,198.8 L195,199 L180,200.6 L171.5,204.2Z" fill="url(#c1gcore)"/><path d="M152,190.4 L167,190.6 L167,191.8 L152,191.6Z" fill="#d6e9f2"/></g></g>
<g clip-path="url(#c1clip)"><g filter="url(#c1b2)"><path d="M73.3,194.2L171.1,193.9L171.1,206.0Z" fill="#fff"/><path d="M73.8,194.29999999999998L171.1,206.0" stroke="#6d9ed2" stroke-width="0.9"/><path d="M150.7,193.9H171.1V206" stroke="#3a74bd" stroke-width="1.0" fill="none"/><path d="M75.3,194.2L110,194.8L110,196.5Z" fill="#d6e8f4"/><path d="M84,194.0 L111,191.7 L150.7,191.3 L150.7,194.3 L111,194.4 L84,194.3Z" fill="#2a62b4"/><path d="M109,192.1 L150.7,185.6 L150.7,191.7 L111,192.3Z" fill="#fff"/><path d="M109,192.1L150.7,185.6V191.8" stroke="#5a8ecb" stroke-width="0.9" fill="none"/></g></g>
<path d="M107.2,183.3V193.0" stroke="#fff" stroke-width="0.9"/>
<text x="73.1" y="156.3" font-size="8.75"><tspan font-style="italic">t</tspan>* = 78.89, almost steady</text>
<text x="73.4" y="183.9" font-size="10.2" style="stroke-width:0.18px">S<tspan font-size="6.6" dy="2.2">1</tspan></text>
<text x="85.8" y="183.9" font-size="10.2" style="stroke-width:0.18px">S<tspan font-size="6.6" dy="2.2">2</tspan></text>
<text x="99.7" y="178.4" font-size="10.2" style="stroke-width:0.18px">S<tspan font-size="6.6" dy="2.2">3</tspan></text>
<path d="M83.1,184.9L86.62,187.21" stroke="#111" stroke-width="1.1"/><path d="M89.8,189.3L85.91,188.3L87.34,186.13Z" fill="#111"/>
<path d="M93.7,185.4L97.65,188.61" stroke="#111" stroke-width="1.1"/><path d="M100.6,191L96.83,189.61L98.47,187.6Z" fill="#111"/>
<path d="M111.6,179.6L115.41,183.12" stroke="#111" stroke-width="1.1"/><path d="M118.2,185.7L114.53,184.08L116.29,182.17Z" fill="#111"/>
<text x="133.4" y="201.0" font-size="9.9" style="stroke-width:0.25px">ST</text>
<path d="M129.8,197L126.85,194.41" stroke="#111" stroke-width="1.1"/><path d="M124,191.9L127.71,193.43L126,195.39Z" fill="#111"/>
<path d="M71,220.0H171.6" stroke="#3c3c3c" stroke-width="1.2"/>
<path d="M73.1,216.4V220M122.35,216.4V220M171.6,216.4V220" stroke="#222" stroke-width="0.8"/>
<path d="M82.95,218.0V219.4M92.8,218.0V219.4M102.65,218.0V219.4M112.5,218.0V219.4M132.2,218.0V219.4M142.05,218.0V219.4M151.9,218.0V219.4M161.75,218.0V219.4" stroke="#fff" stroke-width="0.6" opacity="0.7"/>
<text x="73.1" y="227.3" font-size="7.4" text-anchor="middle" style="stroke-width:0.3px">0</text>
<text x="122.1" y="227.3" font-size="7.4" text-anchor="middle" style="stroke-width:0.3px">0.5</text>
<text x="171.6" y="227.3" font-size="7.4" text-anchor="middle" style="stroke-width:0.3px">1</text>
<text x="115.0" y="236.4" font-size="9.6" font-style="italic" style="stroke-width:0.3px">x/l<tspan font-size="6.4" dy="1.9" font-style="normal">b</tspan></text>
</g>
<path d="M222.6,194.8H232.2V192.3L240.1,196.8L232.2,201.3V198.8H222.6Z" fill="#fff" stroke="#3a4a5c" stroke-width="0.8" stroke-linejoin="miter"/>
<text x="50.5" y="152.6" font-size="10.4" font-weight="bold" style="stroke:none">(c)</text>
<text x="78.8" y="249.2" font-size="8.6">S<tspan font-size="5.8" dy="1.6">1</tspan><tspan dy="-1.6">: Leading edge shock</tspan></text>
<text x="177.0" y="249.2" font-size="8.6">S<tspan font-size="5.8" dy="1.6">2</tspan><tspan dy="-1.6">: Shear layer</tspan></text>
<text x="244.0" y="249.2" font-size="8.6">S<tspan font-size="5.8" dy="1.6">3</tspan><tspan dy="-1.6">: Separation shock</tspan></text>
<text x="331.5" y="249.2" font-size="8.6">ST: Shock train</text>
</svg>
</body></html>
